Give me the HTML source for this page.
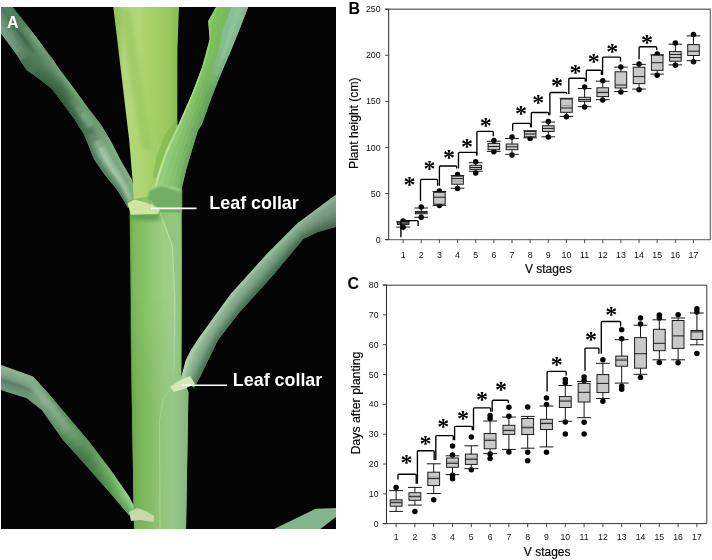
<!DOCTYPE html>
<html><head><meta charset="utf-8"><title>Leaf collar V stages</title>
<style>
html,body{margin:0;padding:0;background:#fff;}
svg{display:block}
.tk{font-family:"Liberation Sans",Arial,sans-serif;font-size:8.7px;fill:#111;}
.lab{font-family:"Liberation Sans",Arial,sans-serif;font-size:12px;fill:#000;stroke:#000;stroke-width:0.15px;}
.pl{font-family:"Liberation Sans",Arial,sans-serif;font-size:16px;font-weight:bold;fill:#000;}
.ast{font-family:"Liberation Serif","Times New Roman",serif;font-size:24px;font-weight:bold;fill:#000;text-anchor:middle;}
.lc{font-family:"Liberation Sans",Arial,sans-serif;font-size:17.9px;font-weight:bold;fill:#fff;}
</style></head>
<body>
<svg width="712" height="560" viewBox="0 0 712 560">
<rect width="712" height="560" fill="#fff"/>
<g id="photo">
<defs>
<clipPath id="pc"><rect x="1" y="7" width="335" height="522"/></clipPath>
<linearGradient id="gStalk" gradientUnits="userSpaceOnUse" x1="129" x2="186" y1="0" y2="0">
<stop offset="0" stop-color="#66a04a"/><stop offset="0.08" stop-color="#7cb85c"/><stop offset="0.35" stop-color="#8fc66e"/><stop offset="0.6" stop-color="#9ccd80"/><stop offset="0.85" stop-color="#a2d08c"/><stop offset="1" stop-color="#84b872"/>
</linearGradient>
<linearGradient id="gWhorl" gradientUnits="userSpaceOnUse" x1="118" x2="180" y1="0" y2="0">
<stop offset="0" stop-color="#98c460"/><stop offset="0.1" stop-color="#b4d87c"/><stop offset="0.35" stop-color="#b0d674"/><stop offset="0.55" stop-color="#a6d068"/><stop offset="0.8" stop-color="#9aca60"/><stop offset="1" stop-color="#86b852"/>
</linearGradient>
<linearGradient id="gStalk2" gradientUnits="userSpaceOnUse" x1="132" x2="188" y1="0" y2="0">
<stop offset="0" stop-color="#69a64c"/><stop offset="0.1" stop-color="#76b356"/><stop offset="0.4" stop-color="#89c06a"/><stop offset="0.55" stop-color="#92c679"/><stop offset="0.75" stop-color="#96c88c"/><stop offset="1" stop-color="#84b87a"/>
</linearGradient>
<linearGradient id="gFade" gradientUnits="userSpaceOnUse" x1="0" x2="0" y1="300" y2="400">
<stop offset="0" stop-color="#fff" stop-opacity="0"/><stop offset="1" stop-color="#fff" stop-opacity="1"/>
</linearGradient>
<mask id="mFade"><rect x="100" y="250" width="120" height="300" fill="url(#gFade)"/></mask>
<filter id="b1" x="-5%" y="-5%" width="110%" height="110%"><feGaussianBlur stdDeviation="0.7"/></filter>
<filter id="b2" x="-5%" y="-5%" width="110%" height="110%"><feGaussianBlur stdDeviation="1.1"/></filter>
<filter id="b3" x="-30%" y="-30%" width="160%" height="160%"><feGaussianBlur stdDeviation="2.2"/></filter>
</defs>
<rect x="1" y="7" width="335" height="522" fill="#050505"/>
<g clip-path="url(#pc)">
<clipPath id="lc1"><polygon points="5.1,-3.4 12.6,7 24.5,22 38.6,40 47.5,52.5 53.4,60 58.6,67.9 74.6,89.3 88.9,108.9 101.3,125 111.8,142.7 120.5,160 131.9,179.6 134.5,192.5 137,200 128,208 124.6,202.1 116.6,189.3 104.6,174.8 94.1,159.6 86.1,139.5 83.6,134 74.6,119.6 62.1,102.5 51.4,88.5 39.8,79.6 26.5,69.9 14.5,51.8 1.2,33.8 -5.3,21.9"/></clipPath>
<g clip-path="url(#lc1)"><polygon points="5.1,-3.4 12.6,7 24.5,22 38.6,40 47.5,52.5 53.4,60 58.6,67.9 74.6,89.3 88.9,108.9 101.3,125 111.8,142.7 120.5,160 131.9,179.6 134.5,192.5 137,200 128,208 124.6,202.1 116.6,189.3 104.6,174.8 94.1,159.6 86.1,139.5 83.6,134 74.6,119.6 62.1,102.5 51.4,88.5 39.8,79.6 26.5,69.9 14.5,51.8 1.2,33.8 -5.3,21.9" fill="#7aa480"/><g filter="url(#b2)">
<polygon points="7.9,-18.1 17.8,-4.6 4.4,4.1 -1.3,-3.8" fill="#4b7657"/>
<polygon points="15.4,-7.7 23.8,2.7 9.1,10.8 2.6,1.5" fill="#4e7859"/>
<polygon points="21.5,0.2 29.7,9.1 14.1,17.7 7.1,8" fill="#517b5c"/>
<polygon points="27.4,6.6 35.1,15 19.4,24.7 12.1,14.9" fill="#537d5e"/>
<polygon points="33.3,12.9 40,20.7 24.8,31.9 17.1,21.8" fill="#567f60"/>
<polygon points="37.8,18 45.5,27.5 30,38.5 22.7,29.2" fill="#66916e"/>
<polygon points="43.2,24.7 51.1,34.6 34.9,45.2 28,35.9" fill="#76a27d"/>
<polygon points="49,31.8 54.7,40.2 40.5,52.8 33,42.5" fill="#73a079"/>
<polygon points="54.1,38.7 57.5,45.5 46.7,60.3 37.9,49.4" fill="#6d9a73"/>
<polygon points="55.6,42.4 61.9,53.4 52,66.7 44.4,57.8" fill="#6b9971"/>
<polygon points="60.2,50.1 66.1,61.6 57.2,73.2 50,64.1" fill="#6e9c72"/>
<polygon points="64.3,58.5 71.3,69.8 62.2,79.5 55,70.6" fill="#709e74"/>
<polygon points="68.7,66.4 77.3,77.8 66.9,85.8 60.4,77.1" fill="#72a075"/>
<polygon points="75.3,75.1 82.4,84.8 72,92.6 64.8,83" fill="#75a377"/>
<polygon points="80.3,82 87.5,91.8 77,99.4 70,89.9" fill="#75a377"/>
<polygon points="85.5,89 92.5,98.7 82,106.3 75,96.7" fill="#72a073"/>
<polygon points="90.5,95.9 97.9,105.7 87,113.1 80,103.6" fill="#6f9e6f"/>
<polygon points="95.5,102.8 103.6,112.6 92,119.8 85.1,110.5" fill="#6c9b6c"/>
<polygon points="101.4,110 109.2,119.7 96.7,126.6 90,117.1" fill="#6a9a6a"/>
<polygon points="106.9,116.5 114.8,127.5 100.9,133.5 95,123.9" fill="#6a9a6a"/>
<polygon points="112.7,124.5 119.8,134.9 105,140.8 99.3,130.6" fill="#70a070"/>
<polygon points="117.8,132.1 123.8,141.3 109.1,148.8 103.4,137.8" fill="#79a87a"/>
<polygon points="122.7,139.2 126.7,147.7 113.4,157 107.4,145.3" fill="#7fae80"/>
<polygon points="125.4,144.5 130,155.3 117.7,164.5 111.8,154" fill="#7fae80"/>
<polygon points="128.8,152.5 133.5,162.7 122.3,171.9 115.8,161.4" fill="#7fae80"/>
<polygon points="132,159.5 137.3,171 126.5,179 120.5,169" fill="#7fae80"/>
<polygon points="135.7,167.4 139.8,180 129.7,186.3 125,176.2" fill="#81af80"/>
<polygon points="139.7,176.4 140.6,189.1 132.2,194.3 128.8,183.1" fill="#82b181"/>
<polygon points="140.1,185.5 142.3,197.9 135,202.1 131.1,191.1" fill="#84b281"/>
<polygon points="141.5,194.5 143.5,203 136.8,206.9 133.8,199" fill="#85b382"/>
<polygon points="-0.5,-5 5.5,3.4 1.3,6.1 -3.4,-0.6" fill="#527e5e"/>
<polygon points="3.6,0.8 10.3,10.1 5.7,12.6 -0.3,3.6" fill="#537f5e"/>
<polygon points="8.3,7.4 15.3,17 10.5,19.6 3.8,9.8" fill="#547f5f"/>
<polygon points="13.3,14.2 20.6,23.9 15.7,27 8.6,16.8" fill="#54805f"/>
<polygon points="18.4,21 26,31 21.3,34.5 13.4,23.8" fill="#55805f"/>
<polygon points="23.9,28.3 31.2,37.7 26.4,41.1 19.3,31.7" fill="#588561"/>
<polygon points="29.2,35 36.2,44.4 31.2,47.7 24.4,38.5" fill="#5c8a64"/>
<polygon points="34.3,41.6 41.7,51.8 37.2,55.7 29.3,44.9" fill="#5f8c66"/>
<polygon points="39.2,48.6 47.5,59.1 44.2,63.7 34.2,51.9" fill="#628e69"/>
<polygon points="45.3,56.6 52.8,65.6 49.8,69.8 41.9,61.3" fill="#648f69"/>
<polygon points="50.8,63 57.9,72.3 55.1,75.9 47.7,67.3" fill="#638f68"/>
<polygon points="55.8,69.6 62.9,78.7 60,81.7 52.9,73.4" fill="#628f67"/>
<polygon points="61,76.2 67.7,85.1 64.5,87.6 58.4,79.5" fill="#618f66"/>
<polygon points="65.7,82.4 72.8,92 69.6,94.4 62.5,84.9" fill="#608f65"/>
<polygon points="70.8,89.2 77.9,98.8 74.6,101.2 67.6,91.7" fill="#619166"/>
<polygon points="75.8,96.1 82.9,105.7 79.6,108.1 72.6,98.4" fill="#65956a"/>
<polygon points="80.9,103 87.9,112.5 84.5,114.8 77.6,105.3" fill="#69996e"/>
<polygon points="85.9,109.8 92.9,119.2 89.3,121.5 82.7,112.2" fill="#6d9d72"/>
<polygon points="90.9,116.5 97.7,126 93.9,128.2 87.3,118.7" fill="#6f9f74"/>
<polygon points="96,123.3 102.1,133 97.8,134.9 92.3,125.7" fill="#6f9f74"/>
<polygon points="100.4,130.1 106.2,140.3 101.6,142.2 96.3,132" fill="#72a177"/>
<polygon points="104.5,137.4 110.3,148.2 105.8,150.5 100,139.1" fill="#75a47b"/>
<polygon points="108.6,144.8 114.5,156.2 110.3,159.1 103.9,146.7" fill="#78a67e"/>
<polygon points="112.9,153.2 118.7,163.7 114.8,166.6 108.6,156.1" fill="#78a67e"/>
<polygon points="116.9,160.7 123.2,171.2 119.7,174 112.8,163.5" fill="#78a67e"/>
<polygon points="121.4,168.3 127.4,178.3 124.1,180.8 117.8,171.2" fill="#78a67e"/>
<polygon points="125.9,175.5 130.5,185.8 127.4,187.8 122.6,178.2" fill="#79a77e"/>
<polygon points="129.7,182.6 132.9,193.9 130.2,195.5 126.3,184.7" fill="#7ba97e"/>
<polygon points="131.8,190.7 135.6,201.8 133.3,203.1 129,192.4" fill="#7caa7e"/>
<polygon points="134.4,198.6 137.4,206.6 135.3,207.8 132,200" fill="#7dab7e"/>
<polygon points="-2.6,-1.7 2.4,5.4 -1.8,8.1 -5.5,2.7" fill="#588364"/>
<polygon points="0.7,2.9 6.9,12 2.3,14.5 -3.3,5.8" fill="#537e5f"/>
<polygon points="5,9.2 11.8,18.9 6.9,21.6 0.5,11.6" fill="#4e795a"/>
<polygon points="9.8,16.2 17,26.2 12.1,29.2 5.1,18.7" fill="#4a7455"/>
<polygon points="14.7,23.1 22.6,33.6 17.9,37 9.7,25.8" fill="#456f50"/>
<polygon points="20.5,30.8 27.6,40.2 22.8,43.6 15.8,34.3" fill="#436d4e"/>
<polygon points="25.7,37.6 32.5,46.8 27.5,50.2 20.9,41.1" fill="#416a4c"/>
<polygon points="30.6,44 38.4,54.7 34,58.6 25.6,47.3" fill="#4a7454"/>
<polygon points="35.5,51 45.1,62.5 41.7,67.1 30.4,54.4" fill="#557f5d"/>
<polygon points="42.8,60.1 50.5,68.7 47.5,72.8 39.3,64.9" fill="#588460"/>
<polygon points="48.5,66.2 55.8,74.9 53,78.5 45.3,70.5" fill="#55815d"/>
<polygon points="53.6,72.4 60.8,80.9 57.9,83.9 50.7,76.2" fill="#527f5a"/>
<polygon points="59.1,78.7 65.3,87 62.1,89.4 56.5,82" fill="#4f7c57"/>
<polygon points="63.3,84.2 70.4,93.8 67.2,96.2 60.1,86.7" fill="#4c7a54"/>
<polygon points="68.4,91.1 75.4,100.6 72.2,102.9 65.2,93.5" fill="#507e58"/>
<polygon points="73.4,97.8 80.5,107.5 77.2,109.8 70.2,100.2" fill="#608b66"/>
<polygon points="78.5,104.7 85.4,114.2 82,116.5 75.2,107.1" fill="#6f9974"/>
<polygon points="83.5,111.6 90.3,120.9 86.7,123.2 80.3,114" fill="#7ea783"/>
<polygon points="88.3,118.1 94.9,127.6 91,129.8 84.7,120.4" fill="#7aa37f"/>
<polygon points="93.2,125.1 98.9,134.4 94.6,136.2 89.5,127.4" fill="#618e69"/>
<polygon points="97.3,131.5 102.8,141.7 98.2,143.5 93.2,133.4" fill="#6a9672"/>
<polygon points="101.2,138.7 107,149.9 102.4,152.2 96.7,140.5" fill="#82ab88"/>
<polygon points="105.1,146.2 111.4,158.3 107.2,161.2 100.3,148.1" fill="#92b998"/>
<polygon points="109.7,155.4 115.8,165.8 112,168.7 105.5,158.3" fill="#92b998"/>
<polygon points="113.9,162.8 120.6,173.3 117.2,176.2 109.9,165.6" fill="#92b998"/>
<polygon points="118.8,170.5 124.9,180.2 121.6,182.7 115.2,173.4" fill="#92b998"/>
<polygon points="123.4,177.5 128.2,187.3 125.1,189.2 120.1,180.3" fill="#91b896"/>
<polygon points="127.2,184.1 130.9,195 128.3,196.6 123.9,186.2" fill="#90b794"/>
<polygon points="129.7,192 133.9,202.8 131.7,204.1 127,193.7" fill="#8fb693"/>
<polygon points="132.6,199.6 135.8,207.5 133.8,208.6 130.2,201" fill="#8eb591"/>
<polygon points="-4.7,1.6 -0.7,7.4 -4.9,10.1 -7.6,6" fill="#638b6f"/>
<polygon points="-2.2,5 3.5,13.8 -1.1,16.3 -6.2,7.9" fill="#618a6d"/>
<polygon points="1.6,11 8.2,20.9 3.3,23.5 -2.8,13.5" fill="#5e886a"/>
<polygon points="6.3,18.1 13.4,28.4 8.5,31.5 1.5,20.7" fill="#5c8768"/>
<polygon points="11,25.1 19.1,36.1 14.4,39.6 5.9,27.9" fill="#5a8566"/>
<polygon points="17,33.4 24.1,42.7 19.2,46.1 12.3,36.9" fill="#588362"/>
<polygon points="22.2,40.2 28.8,49.3 23.8,52.6 17.4,43.7" fill="#55805e"/>
<polygon points="26.9,46.5 35.1,57.6 30.7,61.5 21.9,49.8" fill="#537e5c"/>
<polygon points="31.7,53.5 42.6,65.9 39.2,70.5 26.7,56.8" fill="#507b59"/>
<polygon points="40.2,63.6 48.3,71.7 45.2,75.9 36.7,68.4" fill="#4d7856"/>
<polygon points="46.1,69.4 53.8,77.6 51,81.2 43,73.8" fill="#4a7553"/>
<polygon points="51.5,75.2 58.7,83.1 55.8,86.1 48.6,79" fill="#477250"/>
<polygon points="57.2,81.1 63,88.8 59.7,91.2 54.6,84.4" fill="#446f4d"/>
<polygon points="60.9,86.1 68,95.6 64.8,98 57.7,88.5" fill="#416c4a"/>
<polygon points="66.1,92.9 73,102.3 69.8,104.7 62.8,95.3" fill="#45704e"/>
<polygon points="71,99.6 78.1,109.2 74.8,111.6 67.8,101.9" fill="#547f5c"/>
<polygon points="76.1,106.5 82.9,115.9 79.6,118.2 72.8,108.8" fill="#638e6a"/>
<polygon points="81.1,113.4 87.6,122.6 84,124.8 77.9,115.7" fill="#729d79"/>
<polygon points="85.6,119.8 92,129.2 88.1,131.4 82.1,122" fill="#6b9672"/>
<polygon points="90.5,126.8 95.7,135.7 91.4,137.6 86.8,129.1" fill="#4d7957"/>
<polygon points="94.2,132.9 99.4,143.1 94.8,144.9 90.1,134.8" fill="#618969"/>
<polygon points="97.9,140 103.6,151.6 99,153.9 93.4,141.8" fill="#89ad8e"/>
<polygon points="101.6,147.6 108.3,160.5 104.2,163.3 96.8,149.5" fill="#a6c6a8"/>
<polygon points="106.6,157.5 113,168 109.2,170.8 102.3,160.5" fill="#a6c6a8"/>
<polygon points="110.9,164.8 118.1,175.4 114.6,178.3 106.9,167.6" fill="#a6c6a8"/>
<polygon points="116.1,172.6 122.5,182 119.1,184.5 112.6,175.6" fill="#a6c6a8"/>
<polygon points="121,179.6 125.9,188.7 122.8,190.7 117.6,182.3" fill="#a4c5a6"/>
<polygon points="124.7,185.7 129,196.2 126.3,197.8 121.4,187.8" fill="#a2c3a4"/>
<polygon points="127.7,193.3 132.2,203.7 130,205 124.9,195" fill="#9fc2a1"/>
<polygon points="130.9,200.7 134.3,208.3 132.2,209.5 128.5,202" fill="#9dc19f"/>
<polygon points="-6.8,4.8 -3.8,9.4 -7.9,12.1 -9.7,9.2" fill="#72977e"/>
<polygon points="-5.2,7.1 0.1,15.7 -4.5,18.2 -9.1,10" fill="#71967d"/>
<polygon points="-1.7,12.8 4.6,22.9 -0.3,25.5 -6.1,15.3" fill="#70967c"/>
<polygon points="2.8,20 9.8,30.7 4.9,33.7 -2,22.6" fill="#70957b"/>
<polygon points="7.2,27.1 15.6,38.7 10.9,42.2 2.2,29.9" fill="#6f957a"/>
<polygon points="13.5,36 20.5,45.2 15.7,48.7 8.9,39.4" fill="#6b9276"/>
<polygon points="18.7,42.8 25.1,51.8 20.1,55.1 13.9,46.3" fill="#668f72"/>
<polygon points="23.2,48.9 31.8,60.5 27.4,64.4 18.2,52.2" fill="#5a8365"/>
<polygon points="28,56 40.1,69.4 36.7,74 23,59.3" fill="#4d7656"/>
<polygon points="37.6,67.2 46,74.8 42.9,78.9 34.1,71.9" fill="#456f4e"/>
<polygon points="43.8,72.6 51.7,80.3 48.9,83.8 40.6,77" fill="#426c4c"/>
<polygon points="49.3,78 56.6,85.3 53.7,88.3 46.4,81.8" fill="#406a4a"/>
<polygon points="55.3,83.6 60.6,90.6 57.4,93.1 52.7,86.9" fill="#3e6847"/>
<polygon points="58.5,87.9 65.7,97.3 62.4,99.8 55.3,90.4" fill="#3b6545"/>
<polygon points="63.7,94.7 70.6,104.1 67.4,106.5 60.5,97.1" fill="#3c6645"/>
<polygon points="68.6,101.3 75.7,111 72.4,113.4 65.4,103.7" fill="#406b49"/>
<polygon points="73.7,108.2 80.4,117.6 77.1,119.9 70.4,110.6" fill="#44704d"/>
<polygon points="78.7,115.1 84.9,124.2 81.3,126.5 75.5,117.5" fill="#487550"/>
<polygon points="83,121.4 89.1,130.8 85.2,132.9 79.5,123.6" fill="#4b7954"/>
<polygon points="87.8,128.5 92.5,137.1 88.2,139 84.1,130.8" fill="#4e7c57"/>
<polygon points="91.2,134.3 95.9,144.4 91.3,146.2 87,136.2" fill="#5c8965"/>
<polygon points="94.5,141.3 100.2,153.3 95.7,155.6 90,143.1" fill="#6d9a76"/>
<polygon points="98.1,149 105.2,162.6 101.1,165.4 93.3,150.9" fill="#79a582"/>
<polygon points="103.4,159.7 110.2,170.1 106.3,172.9 99.2,162.6" fill="#75a17f"/>
<polygon points="107.9,166.9 115.5,177.5 112,180.4 103.9,169.7" fill="#729e7b"/>
<polygon points="113.5,174.8 120,183.9 116.7,186.3 109.9,177.8" fill="#6e9a78"/>
<polygon points="118.5,181.6 123.6,190.2 120.5,192.1 115.2,184.3" fill="#6e9a78"/>
<polygon points="122.2,187.2 127,197.4 124.4,199 118.9,189.3" fill="#6e9a78"/>
<polygon points="125.6,194.5 130.6,204.7 128.3,206 122.8,196.3" fill="#6e9a78"/>
<polygon points="129.1,201.7 132.8,209.2 130.7,210.4 126.7,203.1" fill="#6e9a78"/>
<polygon points="-8.9,8.1 -6.9,11.4 -19.2,19.4 -17.4,21.2" fill="#7a9e86"/>
<polygon points="-8.1,9.3 -3.3,17.5 -16.8,25 -19.9,17.7" fill="#799d85"/>
<polygon points="-5,14.6 1,24.8 -13.4,32.7 -18.2,21.9" fill="#799d85"/>
<polygon points="-0.7,21.9 6.1,32.9 -8.4,41.9 -14.8,29.6" fill="#789c84"/>
<polygon points="3.5,29.2 12.1,41.3 -1.8,51.6 -11.4,37.3" fill="#789c84"/>
<polygon points="10.1,38.5 16.9,47.8 2.6,57.9 -3.8,48.8" fill="#74997f"/>
<polygon points="15.2,45.4 21.4,54.2 6.6,64 1.2,55.7" fill="#6f957a"/>
<polygon points="19.5,51.4 28.6,63.4 15.5,74.9 4.8,61.1" fill="#5d8467"/>
<polygon points="24.3,58.5 37.6,72.8 27.6,86.4 9.4,68.4" fill="#497152"/>
<polygon points="35,70.7 43.7,77.8 34.7,90.1 24.7,84.8" fill="#3e6747"/>
<polygon points="41.4,75.9 49.6,82.9 41.4,93.6 32,88.8" fill="#3c6445"/>
<polygon points="47.2,80.8 54.4,87.5 46,96.3 38.6,92" fill="#3a6143"/>
<polygon points="53.3,86 58.2,92.4 48.6,99.7 45.6,95.9" fill="#385e41"/>
<polygon points="56.1,89.7 63.3,99.1 53.7,106.3 46.6,97" fill="#365b3f"/>
<polygon points="61.3,96.5 68.2,105.8 58.6,112.9 51.8,103.8" fill="#365b3f"/>
<polygon points="66.2,103.1 73.3,112.7 63.7,119.8 56.6,110.1" fill="#395f42"/>
<polygon points="71.3,110 77.9,119.3 68,126.2 61.6,117" fill="#3b6344"/>
<polygon points="76.3,116.9 82.3,125.9 71.6,132.6 66.7,123.9" fill="#3e6847"/>
<polygon points="80.4,123.1 86.3,132.4 74.8,138.7 69.9,129.6" fill="#426d4b"/>
<polygon points="85,130.2 89.3,138.5 76.6,144 74.1,137" fill="#487352"/>
<polygon points="88.1,135.7 92.5,145.8 78.9,151.2 75.8,141.3" fill="#4d7958"/>
<polygon points="91.2,142.7 96.8,155 83.4,161.8 77.9,148" fill="#527e5e"/>
<polygon points="94.5,150.4 102.2,164.7 89.9,173.2 80.4,156" fill="#558262"/>
<polygon points="100.3,161.9 107.3,172.2 96,180.6 87.8,170.5" fill="#558262"/>
<polygon points="104.9,168.9 112.9,179.7 102.7,188.1 93,177.2" fill="#558262"/>
<polygon points="110.9,177 117.5,185.7 107.7,193.1 100.3,185.7" fill="#558262"/>
<polygon points="116.1,183.6 121.3,191.6 112,197.4 106.2,191.8" fill="#558262"/>
<polygon points="119.7,188.8 125.1,198.6 117.3,203.3 109.8,195" fill="#558262"/>
<polygon points="123.6,195.8 128.9,205.7 122.2,209.5 115.3,201" fill="#558262"/>
<polygon points="127.3,202.7 131.2,210.1 125.1,213.6 120.2,206.8" fill="#558262"/>
</g></g>
<g filter="url(#b1)">
<polygon points="113.3,7 179,7 177.4,50 177.3,124 181,135 181,200 134,203 132.6,180.6 129.2,140" fill="url(#gWhorl)"/>
<polygon points="129.5,200 181.4,190 181.8,260 181.2,376 188.4,392 186,530 134,530 131.5,380 130.2,260" fill="url(#gStalk)"/>
</g>
<g filter="url(#b1)"><polygon points="164,136 177.3,118 177.3,126 168,150 158,178 153,178 156,158" fill="#7cb44e" opacity="0.6"/></g><g filter="url(#b3)"><polygon points="118,7 130,7 152,150 142,150" fill="#94c25a" opacity="0.55"/></g>
<clipPath id="lc2"><polygon points="218,0 216,7.1 208.1,21 209.6,39.3 202.1,67.1 191.4,95 178.6,124 166,150 157,176 152,196 150,213 181.4,213 181.6,189 186.4,169 197.8,131 202.1,124 211,99.3 220.2,75.7 232.1,47.9 240.7,26.4 248.2,7.1 251,0"/></clipPath>
<g clip-path="url(#lc2)"><polygon points="218,0 216,7.1 208.1,21 209.6,39.3 202.1,67.1 191.4,95 178.6,124 166,150 157,176 152,196 150,213 181.4,213 181.6,189 186.4,169 197.8,131 202.1,124 211,99.3 220.2,75.7 232.1,47.9 240.7,26.4 248.2,7.1 251,0" fill="#7cb866"/><g filter="url(#b1)">
<polygon points="205.1,-11.5 201,1.8 218.7,8.7 223.2,-4.4" fill="#87c767"/>
<polygon points="202.8,-1.7 196.3,10.5 214.5,17.6 220.4,5.1" fill="#89c869"/>
<polygon points="198.4,7.1 194.4,19.7 211.9,26.7 216.3,14.1" fill="#8ac96b"/>
<polygon points="193.2,15.5 196.9,30.3 211.9,36.4 211.8,22.9" fill="#8cca6d"/>
<polygon points="196.1,26.2 197.4,40.4 210.7,46.1 212.1,32.6" fill="#8ecb6f"/>
<polygon points="198.2,36.5 195.4,50.3 207.9,55.6 211.8,42.3" fill="#90cd71"/>
<polygon points="196.2,46.3 193.3,60.2 205.1,65.1 209,51.8" fill="#95cf76"/>
<polygon points="194.3,56.2 190.3,69.9 201.9,74.4 206.3,61.3" fill="#9bd27b"/>
<polygon points="191.8,66.2 186.8,79.2 198.3,83.7 203.3,70.7" fill="#a0d480"/>
<polygon points="188.2,75.5 183.1,88.5 194.7,92.9 199.8,79.9" fill="#a5d785"/>
<polygon points="184.7,84.7 179.1,97.7 191,102 196.2,89.2" fill="#a9d989"/>
<polygon points="180.8,94.1 175.2,105.9 187,111.3 192.6,98.4" fill="#acda8b"/>
<polygon points="176.5,103.1 171.3,114.8 182.9,120.5 188.6,107.5" fill="#afdb8e"/>
<polygon points="173.2,110.2 166.4,125.2 178.9,129.1 184.5,117.1" fill="#b2dd90"/>
<polygon points="168.4,121.7 161.3,134 174.8,138.1 180.6,125.5" fill="#b4de92"/>
<polygon points="163.3,130.5 156.3,142.8 170.7,147.1 176.5,134.5" fill="#b6df94"/>
<polygon points="158.2,139.2 152,151.8 167.1,156.3 172.3,143.5" fill="#b8e096"/>
<polygon points="153.4,148.1 148.4,161.4 163.9,165.6 168.3,152.5" fill="#b9e197"/>
<polygon points="150,157.4 144.8,171.1 160.9,175 165.1,161.9" fill="#bbe199"/>
<polygon points="146.1,167.3 141.6,181.8 158.3,184.2 162,171.2" fill="#bce29a"/>
<polygon points="142.9,176.8 138.4,193.3 156.3,193.4 159.2,180.7" fill="#bbe199"/>
<polygon points="139.6,189.4 136,203.1 154.8,203.2 157,189.6" fill="#bae199"/>
<polygon points="136.7,199.1 134.3,212.9 153.8,213.1 155.3,199.3" fill="#b9e199"/>
<polygon points="135,209 133.3,218.8 153.2,219 154.2,209.1" fill="#b8e098"/>
<polygon points="222.2,-4.7 217.8,8.4 225.9,11.5 230.5,-1.5" fill="#7cc05c"/>
<polygon points="219.5,4.8 213.6,17.2 221.9,20.5 227.5,7.9" fill="#7cc05c"/>
<polygon points="215.4,13.7 211,26.4 219,29.6 223.6,16.9" fill="#7cc05c"/>
<polygon points="210.8,22.5 211.2,36.1 218,38.9 219.3,25.9" fill="#7cc05c"/>
<polygon points="211.3,32.2 210,45.8 216,48.4 218.5,35.1" fill="#7cc05c"/>
<polygon points="211.1,42 207.3,55.3 213,57.8 217.3,44.6" fill="#7cc05c"/>
<polygon points="208.4,51.5 204.5,64.8 209.9,67 214.2,54" fill="#7dc05f"/>
<polygon points="205.7,61.1 201.3,74.2 206.6,76.2 211.1,63.4" fill="#7ec061"/>
<polygon points="202.7,70.5 197.8,83.4 203,85.5 208,72.5" fill="#7fc063"/>
<polygon points="199.2,79.7 194.2,92.7 199.5,94.7 204.4,81.8" fill="#80c065"/>
<polygon points="195.6,89 190.4,101.8 195.8,103.8 200.9,91" fill="#81c167"/>
<polygon points="192,98.2 186.4,111 191.7,113.5 197.3,100.1" fill="#84c36b"/>
<polygon points="188,107.3 182.3,120.2 187.6,122.8 193.6,109.3" fill="#87c46e"/>
<polygon points="183.9,116.7 178.3,128.9 184,130.7 189,119.9" fill="#8ac671"/>
<polygon points="180,125.3 174.1,137.9 180.3,139.7 185.5,127.1" fill="#8cc874"/>
<polygon points="175.8,134.3 170,146.9 176.6,148.9 181.8,136.1" fill="#8ec976"/>
<polygon points="171.6,143.3 166.3,156.1 173.2,158.1 178,145.2" fill="#90ca78"/>
<polygon points="167.6,152.3 163.1,165.4 170.2,167.4 174.4,154.4" fill="#91cb79"/>
<polygon points="164.4,161.7 160.1,174.8 167.4,176.5 171.3,163.8" fill="#93cb7b"/>
<polygon points="161.2,171 157.5,184.1 165.1,185.2 168.5,172.7" fill="#94cc7c"/>
<polygon points="158.4,180.5 155.4,193.4 163.6,193.5 165.8,182.3" fill="#94cc7c"/>
<polygon points="156.1,189.6 153.9,203.2 162.5,203.3 164.1,189.6" fill="#94cc7c"/>
<polygon points="154.3,199.3 152.8,213.1 161.7,213.1 162.8,199.3" fill="#94cc7c"/>
<polygon points="153.2,209.1 152.2,219 161.3,219.1 162,209.2" fill="#94cc7c"/>
<polygon points="228.4,-2.3 223.8,10.7 231.5,13.7 236.2,0.8" fill="#78bb5c"/>
<polygon points="225.4,7.1 219.7,19.7 227.6,22.8 233.1,10" fill="#78bb5c"/>
<polygon points="221.5,16.1 216.9,28.7 224.5,31.8 229.2,19.1" fill="#78bb5c"/>
<polygon points="217.1,25 216.3,38.2 222.8,40.9 225.1,28.2" fill="#78bb5c"/>
<polygon points="216.6,34.4 214.5,47.7 220.2,50.2 223.6,37.2" fill="#78bb5c"/>
<polygon points="215.7,44 211.5,57.1 216.9,59.5 221.6,46.5" fill="#78bb5c"/>
<polygon points="212.7,53.4 208.5,66.5 213.6,68.6 218.3,55.8" fill="#78ba5d"/>
<polygon points="209.7,62.8 205.2,75.7 210.2,77.6 214.9,65" fill="#78ba5d"/>
<polygon points="206.6,72 201.6,84.9 206.7,86.9 211.7,73.9" fill="#78b95d"/>
<polygon points="203.1,81.2 198.1,94.1 203.1,96 208.1,83.2" fill="#78b85e"/>
<polygon points="199.5,90.5 194.4,103.3 199.6,105.1 204.5,92.5" fill="#79b95f"/>
<polygon points="195.9,99.6 190.4,112.9 195.5,115.2 201,101.4" fill="#7cbb63"/>
<polygon points="192.1,108.7 186.2,122.1 191.3,124.6 197.4,110.7" fill="#7fbc66"/>
<polygon points="187.7,119.1 182.6,130.2 188,131.9 192.6,122.1" fill="#82be69"/>
<polygon points="184.1,126.6 178.7,139.3 184.6,141 189.4,128.3" fill="#84c06c"/>
<polygon points="180.2,135.6 174.9,148.3 181.1,150.2 186,137.3" fill="#86c16e"/>
<polygon points="176.4,144.7 171.4,157.6 177.9,159.5 182.5,146.5" fill="#88c370"/>
<polygon points="172.6,153.8 168.4,166.9 175.1,168.7 179.1,155.8" fill="#89c472"/>
<polygon points="169.5,163.2 165.5,176.1 172.5,177.8 176.1,165.2" fill="#8bc575"/>
<polygon points="166.6,172.3 163.1,184.9 170.4,186 173.6,173.9" fill="#8cc676"/>
<polygon points="163.9,181.8 161.4,193.5 169.2,193.6 171,183.5" fill="#8cc676"/>
<polygon points="162,189.6 160.3,203.3 168.4,203.3 169.6,189.7" fill="#8cc676"/>
<polygon points="160.6,199.3 159.4,213.1 167.9,213.2 168.7,199.4" fill="#8cc676"/>
<polygon points="159.8,209.2 158.9,219 167.6,219.1 168.1,209.2" fill="#8cc676"/>
<polygon points="234.2,-0 229.5,12.9 236.5,15.6 241.3,2.8" fill="#8bc098"/>
<polygon points="231.1,9.3 225.5,22 232.7,24.7 238,11.9" fill="#8abf94"/>
<polygon points="227.2,18.3 222.5,31 229.4,33.7 234.2,21.1" fill="#88be91"/>
<polygon points="223,27.4 221.1,40.2 227,42.6 230.3,30.3" fill="#87bd8d"/>
<polygon points="221.8,36.4 218.8,49.5 223.9,51.8 228,38.9" fill="#85bd89"/>
<polygon points="220,45.8 215.5,58.9 220.4,60.9 225.4,48.1" fill="#83bb84"/>
<polygon points="216.8,55.1 212.3,68 216.9,69.9 221.8,57.3" fill="#7fb97b"/>
<polygon points="213.6,64.4 208.9,77.1 213.5,78.9 218.3,66.5" fill="#7bb672"/>
<polygon points="210.4,73.4 205.4,86.4 209.9,88.1 214.9,75.2" fill="#77b468"/>
<polygon points="206.8,82.7 201.8,95.6 206.3,97.3 211.3,84.4" fill="#72b15f"/>
<polygon points="203.2,91.9 198.3,104.6 202.9,106.3 207.7,93.7" fill="#71b15b"/>
<polygon points="199.7,101 194.1,114.6 198.8,116.7 204.3,102.6" fill="#74b35e"/>
<polygon points="196,110.2 190,123.9 194.5,126.1 200.8,111.9" fill="#77b461"/>
<polygon points="191.3,121.3 186.6,131.5 191.5,133 195.7,124" fill="#7ab664"/>
<polygon points="188,127.9 183.1,140.6 188.4,142.1 192.8,129.4" fill="#7cb866"/>
<polygon points="184.5,136.9 179.5,149.7 185.2,151.4 189.6,138.4" fill="#7eba68"/>
<polygon points="180.9,146.1 176.2,159 182.1,160.8 186.4,147.7" fill="#80bc6a"/>
<polygon points="177.4,155.3 173.3,168.2 179.4,169.9 183.3,157" fill="#82bd6c"/>
<polygon points="174.4,164.7 170.7,177.3 177,178.8 180.3,166.5" fill="#85bf6f"/>
<polygon points="171.8,173.5 168.5,185.7 175.1,186.6 178,175" fill="#86c070"/>
<polygon points="169.1,183.1 167.2,193.5 174.2,193.6 175.5,184.6" fill="#86c070"/>
<polygon points="167.6,189.7 166.3,203.3 173.7,203.4 174.4,189.7" fill="#86c070"/>
<polygon points="166.6,199.4 165.7,213.2 173.3,213.2 173.8,199.4" fill="#86c070"/>
<polygon points="165.9,209.2 165.3,219.1 173.1,219.2 173.5,209.3" fill="#86c070"/>
<polygon points="239.4,2 234.7,14.9 241.2,17.4 246.1,4.7" fill="#8fc39c"/>
<polygon points="236.2,11.3 230.8,24 237.5,26.7 242.7,13.8" fill="#8fc39c"/>
<polygon points="232.4,20.4 227.6,33 234.1,35.6 239,22.9" fill="#8fc39c"/>
<polygon points="228.4,29.5 225.4,42 231,44.3 235.2,32.3" fill="#8fc39c"/>
<polygon points="226.4,38.3 222.6,51.2 227.5,53.3 232.3,40.7" fill="#8fc39c"/>
<polygon points="224,47.5 219.1,60.4 223.8,62.4 229,49.7" fill="#8dc299"/>
<polygon points="220.5,56.7 215.7,69.5 220.1,71.3 225.3,58.7" fill="#86bc8b"/>
<polygon points="217.1,65.9 212.3,78.4 216.5,80.1 221.5,67.8" fill="#7eb77d"/>
<polygon points="213.7,74.7 208.7,87.7 212.9,89.3 218,76.4" fill="#76b170"/>
<polygon points="210.1,84 205.2,96.8 209.5,98.4 214.4,85.6" fill="#6eab62"/>
<polygon points="206.5,93.2 201.7,105.9 206.1,107.5 210.8,94.9" fill="#6ba95b"/>
<polygon points="203.1,102.2 197.6,116.2 201.9,118.2 207.5,103.7" fill="#6dab5d"/>
<polygon points="199.6,111.4 193.4,125.6 197.6,127.7 204,113" fill="#70ac5e"/>
<polygon points="194.6,123.3 190.2,132.6 194.9,134.1 198.7,125.8" fill="#72ae60"/>
<polygon points="191.5,129 187,141.7 192,143.2 196,130.4" fill="#74b062"/>
<polygon points="188.3,138 183.7,151 189,152.6 193.2,139.5" fill="#77b264"/>
<polygon points="185,147.3 180.6,160.3 186.1,162 190.2,148.8" fill="#79b466"/>
<polygon points="181.8,156.6 177.8,169.5 183.5,171 187.3,158.2" fill="#7cb668"/>
<polygon points="178.8,166 175.4,178.4 181.3,179.9 184.4,167.7" fill="#7eb96b"/>
<polygon points="176.4,174.6 173.4,186.4 179.6,187.3 182.3,176" fill="#80ba6c"/>
<polygon points="173.9,184.2 172.4,193.6 179,193.6 179.9,185.6" fill="#80ba6c"/>
<polygon points="172.6,189.7 171.8,203.4 178.7,203.4 179.1,189.7" fill="#80ba6c"/>
<polygon points="171.9,199.4 171.3,213.2 178.6,213.3 178.8,199.5" fill="#80ba6c"/>
<polygon points="171.5,209.3 171.1,219.1 178.4,219.2 178.6,209.3" fill="#80ba6c"/>
<polygon points="244.4,4 239.5,16.8 258,24 263.3,11.5" fill="#86ba92"/>
<polygon points="241,13.1 235.8,26 254.8,33.4 259.4,20.3" fill="#86ba92"/>
<polygon points="237.3,22.3 232.4,34.9 250.7,42.3 256.1,29.6" fill="#86ba92"/>
<polygon points="233.5,31.5 229.5,43.7 245.3,50.1 252.8,39.3" fill="#86ba92"/>
<polygon points="230.8,40 226.2,52.7 240.1,58.7 247.5,46.7" fill="#86ba92"/>
<polygon points="227.7,49.1 222.6,61.9 235.6,67.5 241.9,55.2" fill="#84b990"/>
<polygon points="224,58.2 219,70.8 231.3,75.9 237.4,64" fill="#7db384"/>
<polygon points="220.4,67.3 215.4,79.7 227.5,84.4 232.9,72.7" fill="#76ae79"/>
<polygon points="216.9,76 211.8,88.9 223.9,93.6 229,80.7" fill="#6fa96e"/>
<polygon points="213.3,85.2 208.3,98 220.5,102.6 225.3,89.9" fill="#68a363"/>
<polygon points="209.7,94.5 205,107.1 217.4,111.5 221.7,99.2" fill="#65a15c"/>
<polygon points="206.3,103.3 200.8,117.6 213.1,123.3 218.6,107.8" fill="#66a25c"/>
<polygon points="202.9,112.6 196.5,127.1 208.7,133.1 215.6,117.2" fill="#67a35c"/>
<polygon points="197.6,125.2 193.7,133.7 206.8,137.8 209.4,132.4" fill="#69a55c"/>
<polygon points="194.9,130.1 190.7,142.8 204.8,147.1 207.6,134.1" fill="#6aa65c"/>
<polygon points="191.9,139.1 187.6,152.2 202.7,156.7 205.7,143.3" fill="#6ca75d"/>
<polygon points="188.9,148.4 184.7,161.6 200.4,166.3 203.6,152.9" fill="#6ea95f"/>
<polygon points="185.8,157.8 182,170.6 198.2,175.1 201.4,162.5" fill="#6faa60"/>
<polygon points="182.9,167.3 179.8,179.5 196.6,183.5 198.8,172" fill="#71ab61"/>
<polygon points="180.7,175.7 178,187.1 195.5,189.6 197.4,179.7" fill="#72ac62"/>
<polygon points="178.3,185.3 177.2,193.6 195.9,193.8 195.4,189.4" fill="#72ac62"/>
<polygon points="177.4,189.7 176.9,203.4 196.6,203.6 195.6,189.9" fill="#72ac62"/>
<polygon points="177,199.5 176.7,213.3 197.1,213.4 196.5,199.6" fill="#72ac62"/>
<polygon points="176.8,209.3 176.5,219.2 197.4,219.4 196.9,209.5" fill="#72ac62"/>
</g></g>
<g filter="url(#b2)"><polygon points="149,191 160,185 181.5,191 181.5,213 160,213 157,207 148,200" fill="#72ae62"/><path d="M152 189L160 184.5L181.5 190.5" fill="none" stroke="#a6d688" stroke-width="2"/></g>
<clipPath id="lc3"><polygon points="181,378 185.8,360 191,350 199.3,337.2 230.7,294 266.1,254.7 297.5,223.2 340,191.5 340,226 318,232 303.4,238.9 274,274.3 238.6,313.6 218.1,340 208.3,360 200.6,376 194,388"/></clipPath>
<g clip-path="url(#lc3)"><polygon points="181,378 185.8,360 191,350 199.3,337.2 230.7,294 266.1,254.7 297.5,223.2 340,191.5 340,226 318,232 303.4,238.9 274,274.3 238.6,313.6 218.1,340 208.3,360 200.6,376 194,388" fill="#6a9474"/><g filter="url(#b2)">
<polygon points="173,380.2 175.3,364.9 187,371 182.4,385.4" fill="#b3d3ae"/>
<polygon points="174.6,369.1 177.9,354.5 190.9,360.8 185.7,375.2" fill="#b2d2ad"/>
<polygon points="176.2,358.5 182.9,344.9 195.7,351.1 189.1,364.7" fill="#b0d0ac"/>
<polygon points="180.5,348.6 189.3,336 201.3,341.8 193.5,354.9" fill="#aeceab"/>
<polygon points="186.6,339.4 196.3,326.7 207.1,333.1 199,345.5" fill="#acccaa"/>
<polygon points="193.3,330.7 203.4,317 213.2,324.7 204.7,336.3" fill="#abcba9"/>
<polygon points="200.9,320.6 209.6,308.1 219.6,315.9 210.6,328.2" fill="#a9c9a9"/>
<polygon points="207.1,311.7 216,299 226,307.3 217.1,319.4" fill="#a8c8a8"/>
<polygon points="213.4,302.8 222.6,289.8 232.6,298.8 223.5,310.7" fill="#a6c6a6"/>
<polygon points="220,293.3 229.3,281.3 239.6,290.5 229.8,302.2" fill="#a5c5a5"/>
<polygon points="226.4,284.5 236.6,273.2 246.9,282.5 236.7,293.8" fill="#a3c4a4"/>
<polygon points="233.7,276.5 243.9,265.2 254.1,274.4 243.9,285.7" fill="#a2c3a3"/>
<polygon points="241,268.4 251.1,257.2 261.4,266.2 251.2,277.6" fill="#a0c2a2"/>
<polygon points="248.3,260.3 258.5,249.5 268.8,258.1 258.5,269.5" fill="#9fc0a0"/>
<polygon points="255.4,252.6 266.3,242 276.2,250.2 265.9,261.3" fill="#9ebf9f"/>
<polygon points="263.1,244.9 274.4,234.6 283.7,242.3 273.2,253.3" fill="#9cbe9e"/>
<polygon points="271.2,237.5 282.7,226.9 291.1,234.6 280.7,245.5" fill="#9abc9c"/>
<polygon points="279.2,230.2 291.8,218.2 298.4,227.7 288.2,237.6" fill="#97b99a"/>
<polygon points="288,222 300.8,209.4 306.5,221.6 295.4,230.1" fill="#94b698"/>
<polygon points="297.5,212.4 309.8,201.3 315.1,215.8 302.9,224" fill="#92b496"/>
<polygon points="305.9,204.9 318.8,192.7 323.6,210.3 311.8,218" fill="#8fb194"/>
<polygon points="315.6,196.1 327,184.3 332.6,204.6 320.1,212.5" fill="#8daf91"/>
<polygon points="323.8,187.6 335.7,175.7 341.3,199.1 329,206.9" fill="#8aac8f"/>
<polygon points="331.9,179.2 341.4,170.4 346.3,195.8 338,201.3" fill="#87a98d"/>
<polygon points="181.6,385 186.1,370.5 189.7,372.4 184.5,386.6" fill="#9bc19d"/>
<polygon points="184.8,374.7 189.8,360.3 193.8,362.2 188.2,376.6" fill="#99bf9c"/>
<polygon points="188,364.2 194.7,350.6 198.7,352.6 192,366.1" fill="#97bd9b"/>
<polygon points="192.5,354.4 200.3,341.4 204,343.2 196.6,356.3" fill="#96bb9a"/>
<polygon points="198,345 206.2,332.6 209.6,334.5 201.8,346.9" fill="#94b999"/>
<polygon points="203.8,335.9 212.4,324 215.4,326.4 207.4,337.6" fill="#92b798"/>
<polygon points="209.8,327.5 218.8,315.3 221.9,317.7 212.8,329.9" fill="#90b597"/>
<polygon points="216.3,318.8 225.2,306.6 228.3,309.2 219.3,321.2" fill="#8fb496"/>
<polygon points="222.7,310 231.7,298.1 234.9,300.9 225.8,312.5" fill="#8eb394"/>
<polygon points="229,301.5 238.8,289.8 241.9,292.6 232.1,304.2" fill="#8db293"/>
<polygon points="235.8,293 246,281.7 249.2,284.6 239,295.9" fill="#8bb192"/>
<polygon points="243.1,284.9 253.3,273.6 256.5,276.5 246.3,287.8" fill="#8ab091"/>
<polygon points="250.4,276.9 260.6,265.5 263.8,268.3 253.6,279.7" fill="#89af90"/>
<polygon points="257.7,268.8 268,257.4 271.2,260.1 260.8,271.6" fill="#88ae8e"/>
<polygon points="265,260.6 275.4,249.5 278.5,252.1 268.3,263.3" fill="#87ad8d"/>
<polygon points="272.4,252.6 283,241.7 285.9,244.1 275.5,255.2" fill="#86ac8c"/>
<polygon points="280,244.8 290.4,234 293,236.4 282.9,247.3" fill="#85aa8b"/>
<polygon points="287.5,237 297.9,226.9 300,229.9 290.3,239.3" fill="#83a88a"/>
<polygon points="294.8,229.5 306,220.6 307.8,224.4 297.1,232" fill="#82a689"/>
<polygon points="302.5,223.1 314.7,214.6 316.3,219.1 304.2,226.7" fill="#80a587"/>
<polygon points="311.3,216.9 323.3,208.9 324.7,214.3 313.1,221" fill="#7fa386"/>
<polygon points="319.7,211.2 332.1,203 333.9,209.3 321.1,216.3" fill="#7ea185"/>
<polygon points="328.6,205.3 340.9,197.2 342.6,204.4 330.2,211.3" fill="#7c9f84"/>
<polygon points="337.5,199.5 345.9,193.7 347.5,201.6 339.3,206.3" fill="#7b9d83"/>
<polygon points="183.8,386.2 188.8,371.9 192.4,373.8 186.7,387.8" fill="#8db492"/>
<polygon points="187.3,376.1 192.8,361.7 196.8,363.6 190.8,378" fill="#8cb391"/>
<polygon points="191,365.6 197.6,352.1 201.6,354 195,367.6" fill="#8bb291"/>
<polygon points="195.5,355.8 203.1,342.7 206.8,344.6 199.6,357.8" fill="#8ab190"/>
<polygon points="200.8,346.4 208.7,334 212,336 204.7,348.3" fill="#89af90"/>
<polygon points="206.4,337.2 214.7,325.8 217.7,328.2 210,338.9" fill="#88ae8f"/>
<polygon points="212.1,329.3 221.1,317.1 224.2,319.5 215.1,331.6" fill="#87ad8e"/>
<polygon points="218.5,320.6 227.5,308.5 230.6,311.1 221.6,323" fill="#86ac8e"/>
<polygon points="225,311.8 234,300.2 237.2,303 228.2,314.3" fill="#84aa8c"/>
<polygon points="231.3,303.5 241.1,291.9 244.3,294.8 234.3,306.3" fill="#83a98b"/>
<polygon points="238.2,295.1 248.4,283.8 251.6,286.7 241.4,298" fill="#81a889"/>
<polygon points="245.5,287.1 255.7,275.7 258.8,278.6 248.6,289.9" fill="#80a788"/>
<polygon points="252.7,279 263,267.6 266.2,270.4 255.9,281.8" fill="#7ea686"/>
<polygon points="260,270.9 270.3,259.4 273.5,262 263.2,273.8" fill="#7da485"/>
<polygon points="267.4,262.6 277.7,251.4 280.8,253.9 270.7,265.3" fill="#7ca384"/>
<polygon points="274.7,254.6 285.1,243.5 288,245.9 277.9,257.2" fill="#7aa282"/>
<polygon points="282.1,246.6 292.4,235.8 295,238.2 285.1,249.1" fill="#79a181"/>
<polygon points="289.6,238.7 299.4,229.1 301.5,232.1 292.4,241.1" fill="#799f81"/>
<polygon points="296.5,231.4 307.3,223.4 309,227.2 298.9,233.9" fill="#789e80"/>
<polygon points="303.7,225.7 315.9,218 317.5,222.4 305.4,229.3" fill="#779c7f"/>
<polygon points="312.6,219.9 324.4,212.9 325.8,218.4 314.4,224" fill="#769b7e"/>
<polygon points="320.7,215 333.4,207.7 335.1,214 322.1,220.1" fill="#769a7e"/>
<polygon points="329.8,209.8 342.1,202.5 343.9,209.8 331.4,215.7" fill="#75987d"/>
<polygon points="338.9,204.5 347.1,199.6 348.6,207.4 340.7,211.4" fill="#74977c"/>
<polygon points="185.9,387.4 191.5,373.3 195.2,375.2 188.8,389" fill="#7aa682"/>
<polygon points="189.9,377.5 195.8,363.1 199.8,365.1 193.3,379.4" fill="#7aa582"/>
<polygon points="193.9,367.1 200.6,353.5 204.5,355.4 198,369" fill="#79a482"/>
<polygon points="198.5,357.3 205.8,344.1 209.6,345.9 202.6,359.2" fill="#79a382"/>
<polygon points="203.7,347.8 211.2,335.5 214.5,337.5 207.5,349.7" fill="#79a282"/>
<polygon points="209.1,338.5 216.9,327.6 220,329.9 212.6,340.2" fill="#78a182"/>
<polygon points="214.3,331 223.4,318.9 226.5,321.3 217.3,333.4" fill="#78a082"/>
<polygon points="220.8,322.3 229.8,310.4 232.9,313 223.9,324.7" fill="#789f82"/>
<polygon points="227.4,313.6 236.3,302.2 239.5,305 230.5,316.1" fill="#769d80"/>
<polygon points="233.6,305.5 243.5,294 246.6,296.9 236.6,308.3" fill="#749c7e"/>
<polygon points="240.5,297.3 250.7,285.9 253.9,288.8 243.7,300.1" fill="#729b7c"/>
<polygon points="247.8,289.2 258,277.9 261.2,280.7 251,292" fill="#71997b"/>
<polygon points="255.1,281.1 265.4,269.7 268.6,272.4 258.3,284" fill="#6f9879"/>
<polygon points="262.4,273 272.7,261.4 275.9,264 265.5,275.9" fill="#6e9778"/>
<polygon points="269.8,264.6 280,253.3 283,255.8 273.1,267.3" fill="#6c9576"/>
<polygon points="277,256.5 287.3,245.3 290.1,247.7 280.2,259.1" fill="#6a9474"/>
<polygon points="284.3,248.5 294.3,237.6 296.9,240 287.3,250.9" fill="#6a9374"/>
<polygon points="291.6,240.5 301,231.3 303,234.3 294.4,242.8" fill="#6a9274"/>
<polygon points="298.3,233.3 308.6,226.2 310.3,230 300.6,235.8" fill="#6a9173"/>
<polygon points="305,228.4 317.1,221.3 318.7,225.8 306.7,232" fill="#6a9073"/>
<polygon points="314,223 325.5,216.9 326.9,222.4 315.8,227" fill="#6a8f73"/>
<polygon points="321.8,218.8 334.7,212.4 336.4,218.7 323.2,223.9" fill="#6a8e73"/>
<polygon points="331,214.2 343.4,207.9 345.1,215.2 332.6,220.2" fill="#6a8d72"/>
<polygon points="340.2,209.6 348.2,205.4 349.7,213.2 342.1,216.4" fill="#6a8c72"/>
<polygon points="188.1,388.5 194.2,374.7 197.9,376.6 191,390.1" fill="#668f70"/>
<polygon points="192.4,378.9 198.8,364.6 202.8,366.5 195.8,380.8" fill="#658e70"/>
<polygon points="196.9,368.5 203.5,354.9 207.5,356.8 200.9,370.4" fill="#648d6f"/>
<polygon points="201.5,358.7 208.6,345.4 212.3,347.3 205.6,360.7" fill="#638d6f"/>
<polygon points="206.5,349.2 213.6,337 217,338.9 210.4,351.1" fill="#628c6f"/>
<polygon points="211.7,339.8 219.2,329.3 222.2,331.7 215.2,341.5" fill="#618b6e"/>
<polygon points="216.5,332.8 225.7,320.6 228.9,323.1 219.6,335.1" fill="#608a6e"/>
<polygon points="223.1,324.1 232.1,312.3 235.2,314.9 226.2,326.5" fill="#5f8a6e"/>
<polygon points="229.7,315.5 238.6,304.3 241.8,307.1 232.8,317.9" fill="#5e886c"/>
<polygon points="235.8,307.6 245.8,296.1 249,299 238.9,310.3" fill="#5d876b"/>
<polygon points="242.9,299.4 253.1,288.1 256.3,290.9 246.1,302.2" fill="#5c866a"/>
<polygon points="250.2,291.3 260.4,280 263.5,282.8 253.3,294.2" fill="#5b8469"/>
<polygon points="257.4,283.2 267.7,271.7 270.9,274.5 260.6,286.1" fill="#5b8368"/>
<polygon points="264.7,275.1 275.1,263.3 278.3,266 267.9,278" fill="#5a8266"/>
<polygon points="272.2,266.6 282.2,255.2 285.3,257.7 275.5,269.3" fill="#598065"/>
<polygon points="279.4,258.4 289.4,247 292.3,249.4 282.5,261" fill="#587f64"/>
<polygon points="286.5,250.3 296.2,239.4 298.8,241.8 289.5,252.7" fill="#587f64"/>
<polygon points="293.7,242.2 302.5,233.5 304.6,236.5 296.5,244.5" fill="#587e64"/>
<polygon points="300,235.1 309.9,229 311.6,232.8 302.3,237.7" fill="#597e64"/>
<polygon points="306.3,231 318.3,224.6 320,229.1 308,234.6" fill="#597e64"/>
<polygon points="315.3,226 326.6,221 328,226.4 317.1,230" fill="#597d64"/>
<polygon points="322.8,222.6 336,217 337.7,223.4 324.2,227.7" fill="#597d64"/>
<polygon points="332.2,218.6 344.7,213.3 346.4,220.5 333.8,224.6" fill="#5a7d64"/>
<polygon points="341.6,214.7 349.3,211.2 350.8,219.1 343.5,221.5" fill="#5a7c64"/>
<polygon points="190.2,389.7 196.9,376.1 207.8,381.8 198.9,394.5" fill="#517a5c"/>
<polygon points="194.9,380.3 201.7,366 213.7,371.7 205.1,385.9" fill="#50795b"/>
<polygon points="199.9,369.9 206.5,356.3 218.2,362 211.7,375.6" fill="#4f785b"/>
<polygon points="204.5,360.1 211.4,346.8 222.4,352.2 216.6,365.9" fill="#4e785a"/>
<polygon points="209.4,350.6 216.1,338.4 226,344.3 220.8,356.2" fill="#4d775a"/>
<polygon points="214.3,341 221.4,331.1 230.5,338.1 224.8,346.2" fill="#4c7659"/>
<polygon points="218.8,334.5 228,322.4 237.3,329.6 227.7,341.5" fill="#4b7558"/>
<polygon points="225.4,325.9 234.4,314.2 243.7,321.8 234.5,333" fill="#4a7558"/>
<polygon points="232,317.3 240.9,306.4 250.1,314.7 241.3,324.5" fill="#4a7457"/>
<polygon points="238.1,309.6 248.2,298.3 257.6,306.7 247.1,317.8" fill="#497356"/>
<polygon points="245.2,301.5 255.4,290.2 264.8,298.7 254.7,310" fill="#497156"/>
<polygon points="252.5,293.4 262.7,282.1 272.1,290.6 261.9,301.9" fill="#487055"/>
<polygon points="259.8,285.3 270.1,273.8 279.6,282.1 269.2,293.8" fill="#486f54"/>
<polygon points="267.1,277.3 277.5,265.3 287,273.2 276.5,285.7" fill="#486e54"/>
<polygon points="274.7,268.6 284.5,257 293.6,264.6 284.3,276.6" fill="#476d53"/>
<polygon points="281.7,260.3 291.5,248.8 300.1,255.9 291,268" fill="#476c52"/>
<polygon points="288.7,252.1 298.1,241.1 305.8,248.3 297.5,259.4" fill="#476c52"/>
<polygon points="295.8,243.9 304,235.7 310.1,244.5 304,250.8" fill="#486c52"/>
<polygon points="301.7,237 311.2,231.8 316.3,243 308.5,244.5" fill="#486c53"/>
<polygon points="307.5,233.7 319.5,227.9 324.4,241.2 312.5,244.3" fill="#486c53"/>
<polygon points="316.7,229 327.7,225 332.1,241.2 322,241" fill="#496c53"/>
<polygon points="323.8,226.3 337.2,221.7 342.4,240.4 328,241.5" fill="#496c53"/>
<polygon points="333.4,223 346,218.7 351.1,240.1 338.2,240.7" fill="#496c54"/>
<polygon points="343,219.7 350.4,217 355,240.3 348.5,240" fill="#4a6c54"/>
</g></g>
<clipPath id="lc4"><polygon points="-3,363.5 33,376.4 45.6,390 62.5,410 87.9,440 110.8,470 128.8,496 135.5,508.7 128.9,515.3 112.7,496 89.8,470 63,440 41.7,410 26.4,398 10,393 -3,388.5"/></clipPath>
<g clip-path="url(#lc4)"><polygon points="-3,363.5 33,376.4 45.6,390 62.5,410 87.9,440 110.8,470 128.8,496 135.5,508.7 128.9,515.3 112.7,496 89.8,470 63,440 41.7,410 26.4,398 10,393 -3,388.5" fill="#4a804c"/><g filter="url(#b2)">
<polygon points="-5.8,349.9 7.2,354.6 1.6,370.8 -9.9,366.7" fill="#8fb494"/>
<polygon points="3.8,353.4 15.7,357.7 10.1,373.8 -1.8,369.6" fill="#8fb494"/>
<polygon points="12.3,356.5 24.1,360.9 18.8,376.9 6.7,372.6" fill="#8fb494"/>
<polygon points="20.8,359.6 32.3,364.4 27.3,380 15.3,375.6" fill="#8fb494"/>
<polygon points="28.9,362.7 40.9,370.6 34.2,384.1 24,378.7" fill="#8db292"/>
<polygon points="37.5,366.9 48.3,379.2 39.8,389.9 32.1,381.9" fill="#82a987"/>
<polygon points="46,376.3 53.8,386.7 46,396.4 37.3,387.4" fill="#77a07c"/>
<polygon points="51.7,383.5 60.1,394.7 51.7,402.9 43.6,393.8" fill="#6d9972"/>
<polygon points="57.1,391.3 67,402.4 57.1,409.4 49.7,400.4" fill="#68976b"/>
<polygon points="64.5,399.8 73.2,409.2 62.9,416.5 54.8,406.6" fill="#639464"/>
<polygon points="70.7,406.5 79.3,415.9 68.6,423.5 60.6,413.7" fill="#5e925d"/>
<polygon points="76.9,413.2 85.2,422.3 74.5,430.7 66.3,420.7" fill="#5a9158"/>
<polygon points="83.1,419.9 90.7,428.8 80.5,437.8 72,427.7" fill="#5c9359"/>
<polygon points="88.3,425.9 96.2,435.9 86.3,444.8 78.2,435" fill="#5d965a"/>
<polygon points="94.1,433 101.5,443.3 92,451.9 84.1,441.9" fill="#5e985b"/>
<polygon points="99.4,440.4 106.8,450.8 97.6,459 89.7,449" fill="#629d5e"/>
<polygon points="104.7,447.8 112.1,458.3 103.2,466.1 95.4,456.1" fill="#69a662"/>
<polygon points="110,455.3 117.2,465.8 108.8,473.3 101,463.2" fill="#71ae67"/>
<polygon points="115.3,462.7 122.1,473.6 114.1,480.6 106.6,470.4" fill="#78b66b"/>
<polygon points="120.2,470.4 126.9,481.4 119.5,487.8 112,477.6" fill="#83be75"/>
<polygon points="124.9,478.3 131.7,489.3 124.7,495.2 117.4,484.9" fill="#8ec780"/>
<polygon points="129.8,486.2 135.8,497.6 129.6,502.8 122.6,492.2" fill="#99cf8b"/>
<polygon points="134.4,494.1 139.3,506.2 134.2,510.5 127.8,499.7" fill="#9ad08c"/>
<polygon points="137.9,502.8 141.4,511.4 136.9,515.2 132.3,507.4" fill="#9ad08c"/>
<polygon points="-9.6,365.3 2,369.5 0.3,374.5 -10.9,370.5" fill="#86aa8c"/>
<polygon points="-1.4,368.3 10.6,372.5 8.9,377.5 -3.1,373.3" fill="#86aa8c"/>
<polygon points="7.2,371.3 19.2,375.6 17.6,380.5 5.4,376.3" fill="#86aa8c"/>
<polygon points="15.7,374.4 27.7,378.7 26.1,383.6 14,379.3" fill="#86aa8c"/>
<polygon points="24.4,377.4 34.7,383 32.6,387.2 22.9,382.3" fill="#86aa8c"/>
<polygon points="32.6,380.7 40.5,389.1 37.9,392.4 30.9,385.4" fill="#86ab8c"/>
<polygon points="38,386.5 46.7,395.6 44.2,398.7 35.3,389.9" fill="#86ac8c"/>
<polygon points="44.3,393 52.4,402.2 49.8,404.7 41.8,396.2" fill="#84ab8a"/>
<polygon points="50.3,399.6 57.9,408.9 54.9,411 48,402.4" fill="#7fa884"/>
<polygon points="55.6,406.1 63.7,415.9 60.5,418.1 52.6,408.2" fill="#79a57d"/>
<polygon points="61.4,413.1 69.4,422.9 66.1,425.3 58.2,415.3" fill="#73a177"/>
<polygon points="67.1,420.1 75.3,430 72,432.6 63.9,422.4" fill="#6e9e70"/>
<polygon points="72.9,427.1 81.3,437.1 78.2,439.9 69.5,429.5" fill="#689b69"/>
<polygon points="79,434.3 87.1,444.1 84,446.8 75.8,437.1" fill="#639762"/>
<polygon points="84.9,441.2 92.7,451.2 89.8,453.8 81.8,444" fill="#5d945b"/>
<polygon points="90.5,448.3 98.3,458.3 95.5,460.9 87.5,451" fill="#5c9558"/>
<polygon points="96.1,455.5 103.9,465.5 101.2,467.9 93.2,458.1" fill="#629d5b"/>
<polygon points="101.7,462.6 109.4,472.7 106.8,475 98.9,465.1" fill="#68a55e"/>
<polygon points="107.3,469.8 114.8,480 112.3,482.2 104.6,472.1" fill="#6eac61"/>
<polygon points="112.7,477.1 120.1,487.3 117.8,489.3 110.1,479.3" fill="#77b56a"/>
<polygon points="118,484.4 125.3,494.7 123.1,496.5 115.6,486.5" fill="#81be75"/>
<polygon points="123.2,491.7 130.1,502.3 128.2,503.9 121,493.6" fill="#8bc77f"/>
<polygon points="128.3,499.2 134.6,510.2 133,511.5 126.3,500.9" fill="#8cc880"/>
<polygon points="132.8,507 137.3,514.9 135.9,516 131.1,508.5" fill="#8cc880"/>
<polygon points="-10.5,369.2 0.8,373.2 -1,378.2 -11.8,374.4" fill="#7a9f84"/>
<polygon points="-2.7,372 9.3,376.2 7.6,381.2 -4.4,377" fill="#7a9f84"/>
<polygon points="5.9,375 18,379.2 16.4,384.2 4.2,380" fill="#7a9f84"/>
<polygon points="14.5,378 26.5,382.3 25,387.1 12.7,383" fill="#7a9f84"/>
<polygon points="23.3,381.1 33.2,386.1 31.1,390.3 21.8,386" fill="#7ba085"/>
<polygon points="31.3,384.2 38.5,391.5 35.9,394.9 29.7,388.8" fill="#83a88b"/>
<polygon points="36,389 44.9,397.9 42.4,400.9 33.3,392.5" fill="#8baf90"/>
<polygon points="42.4,395.3 50.5,404.1 47.9,406.6 39.9,398.5" fill="#8eb393"/>
<polygon points="48.6,401.7 55.7,410.5 52.6,412.6 46.2,404.5" fill="#89b08e"/>
<polygon points="53.4,407.6 61.3,417.6 58.1,419.8 50.4,409.8" fill="#84ad89"/>
<polygon points="59.1,414.7 67,424.6 63.6,427 55.9,417" fill="#7eaa84"/>
<polygon points="64.7,421.8 72.9,431.9 69.6,434.5 61.4,424.1" fill="#78a67d"/>
<polygon points="70.4,428.9 79,439.2 75.9,442 66.9,431.3" fill="#6d9e71"/>
<polygon points="76.6,436.4 84.8,446.1 81.8,448.9 73.5,439.2" fill="#639765"/>
<polygon points="82.6,443.3 90.5,453.2 87.6,455.8 79.4,446.1" fill="#588f59"/>
<polygon points="88.3,450.3 96.2,460.2 93.4,462.7 85.3,453" fill="#548d53"/>
<polygon points="94,457.4 101.9,467.3 99.1,469.7 91.1,460" fill="#5a9455"/>
<polygon points="99.6,464.4 107.5,474.4 104.9,476.7 96.8,466.9" fill="#5f9b57"/>
<polygon points="105.3,471.5 113,481.6 110.5,483.8 102.6,473.9" fill="#65a25a"/>
<polygon points="110.8,478.7 118.4,488.8 116.1,490.8 108.3,480.9" fill="#6dab61"/>
<polygon points="116.2,485.9 123.7,496.1 121.5,497.9 113.9,488" fill="#76b46a"/>
<polygon points="121.6,493.1 128.7,503.5 126.8,505.1 119.3,495" fill="#7fbd73"/>
<polygon points="126.8,500.5 133.4,511.2 131.8,512.5 124.7,502.2" fill="#80be74"/>
<polygon points="131.5,508.1 136.2,515.7 134.9,516.9 129.8,509.5" fill="#80be74"/>
<polygon points="-11.5,373 -0.5,376.9 -2.3,381.9 -12.8,378.2" fill="#5a8068"/>
<polygon points="-4,375.7 8,379.9 6.3,384.9 -5.7,380.7" fill="#5a8068"/>
<polygon points="4.6,378.7 16.8,382.9 15.2,387.9 2.9,383.7" fill="#5a8068"/>
<polygon points="13.2,381.7 25.4,385.9 23.8,390.7 11.5,386.7" fill="#5a8068"/>
<polygon points="22.2,384.7 31.6,389.2 29.6,393.4 20.7,389.7" fill="#5d836a"/>
<polygon points="30.1,387.6 36.6,394 34,397.4 28.4,392.3" fill="#6d9277"/>
<polygon points="34,391.6 43.1,400.1 40.7,403.2 31.3,395" fill="#7da183"/>
<polygon points="40.6,397.7 48.6,406 46,408.5 38.1,400.9" fill="#87ab8b"/>
<polygon points="46.8,403.8 53.4,412.1 50.3,414.3 44.5,406.6" fill="#82a987"/>
<polygon points="51.2,409.2 58.9,419.2 55.8,421.5 48.2,411.4" fill="#7ea783"/>
<polygon points="56.7,416.4 64.5,426.4 61.2,428.8 53.6,418.6" fill="#79a67f"/>
<polygon points="62.3,423.5 70.4,433.8 67.1,436.4 59,425.9" fill="#73a279"/>
<polygon points="67.8,430.7 76.7,441.2 73.5,444 64.4,433.1" fill="#68996d"/>
<polygon points="74.3,438.5 82.6,448.1 79.5,450.9 71.1,441.3" fill="#5d8f60"/>
<polygon points="80.2,445.3 88.4,455.1 85.4,457.8 77.1,448.1" fill="#518654"/>
<polygon points="86,452.3 94.1,462.1 91.3,464.6 83,455" fill="#4c834d"/>
<polygon points="91.8,459.3 99.8,469.1 97.1,471.5 88.9,461.9" fill="#518a4f"/>
<polygon points="97.5,466.3 105.5,476.1 102.9,478.4 94.7,468.7" fill="#569151"/>
<polygon points="103.3,473.3 111.1,483.2 108.7,485.4 100.6,475.6" fill="#5b9854"/>
<polygon points="108.9,480.4 116.7,490.3 114.3,492.3 106.4,482.6" fill="#63a15a"/>
<polygon points="114.5,487.5 122.1,497.4 119.9,499.2 112.1,489.5" fill="#6caa62"/>
<polygon points="119.9,494.5 127.3,504.7 125.4,506.3 117.7,496.4" fill="#75b369"/>
<polygon points="125.3,501.8 132.2,512.1 130.7,513.5 123.2,503.5" fill="#76b46a"/>
<polygon points="130.3,509.2 135.2,516.6 133.8,517.8 128.5,510.6" fill="#76b46a"/>
<polygon points="-12.4,376.9 -1.8,380.6 -3.5,385.6 -13.7,382.1" fill="#668c72"/>
<polygon points="-5.2,379.4 6.8,383.6 5,388.6 -7,384.4" fill="#668c72"/>
<polygon points="3.3,382.4 15.6,386.6 13.9,391.6 1.6,387.4" fill="#668c72"/>
<polygon points="11.9,385.4 24.2,389.5 22.6,394.3 10.2,390.4" fill="#668c72"/>
<polygon points="21.1,388.4 30.1,392.3 28,396.5 19.6,393.3" fill="#678e73"/>
<polygon points="28.9,391.1 34.7,396.5 32,399.8 27.2,395.8" fill="#6f9679"/>
<polygon points="32,394.1 41.3,402.4 38.9,405.4 29.3,397.6" fill="#779e7e"/>
<polygon points="38.7,400 46.7,407.8 44.1,410.4 36.2,403.2" fill="#7ba381"/>
<polygon points="45.1,405.8 51.1,413.7 48.1,415.9 42.8,408.7" fill="#76a07c"/>
<polygon points="49,410.8 56.6,420.9 53.4,423.2 46,412.9" fill="#729d78"/>
<polygon points="54.4,418 62,428.2 58.7,430.5 51.3,420.3" fill="#6d9a73"/>
<polygon points="59.9,425.3 68,435.7 64.6,438.3 56.6,427.6" fill="#68966e"/>
<polygon points="65.3,432.5 74.3,443.3 71.2,446.1 61.9,434.9" fill="#5e8e63"/>
<polygon points="71.9,440.6 80.3,450.2 77.2,452.9 68.8,443.4" fill="#548659"/>
<polygon points="77.9,447.4 86.2,457.1 83.2,459.7 74.8,450.2" fill="#4a7d4e"/>
<polygon points="83.8,454.3 92,464 89.1,466.5 80.8,457" fill="#467b49"/>
<polygon points="89.7,461.2 97.8,470.9 95,473.3 86.8,463.8" fill="#4b814b"/>
<polygon points="95.5,468.1 103.6,477.8 101,480.1 92.7,470.5" fill="#4f884d"/>
<polygon points="101.3,475 109.3,484.8 106.9,487 98.6,477.4" fill="#548f4f"/>
<polygon points="107,482 114.9,491.8 112.6,493.8 104.5,484.2" fill="#5b9754"/>
<polygon points="112.7,489 120.5,498.7 118.3,500.6 110.4,491.1" fill="#63a05a"/>
<polygon points="118.3,495.9 125.8,505.9 123.9,507.5 116,497.8" fill="#6ba95f"/>
<polygon points="123.8,503 131.1,513.1 129.5,514.5 121.7,504.7" fill="#6caa60"/>
<polygon points="129,510.2 134.2,517.4 132.8,518.6 127.3,511.7" fill="#6caa60"/>
<polygon points="-13.4,380.7 -3.1,384.3 -8.2,399.1 -17.2,396.1" fill="#6f967a"/>
<polygon points="-6.5,383.1 5.5,387.3 0.4,402.1 -11.7,398" fill="#6f967a"/>
<polygon points="2,386.1 14.4,390.3 9.5,405 -3.1,400.9" fill="#6f967a"/>
<polygon points="10.6,389.1 23,393 18.4,407.4 5.5,403.8" fill="#6f967a"/>
<polygon points="20,392 28.6,395.4 22.4,407.8 15.5,406.7" fill="#6f967a"/>
<polygon points="27.6,394.5 32.7,399 25,408.9 22.7,408.4" fill="#709879"/>
<polygon points="30,396.7 39.5,404.6 32.3,413.6 22,406.9" fill="#719978"/>
<polygon points="36.9,402.4 44.7,409.7 37.1,417.2 29.5,411.8" fill="#719977"/>
<polygon points="43.4,407.9 48.9,415.3 39.8,421.7 36.6,416.2" fill="#6c9673"/>
<polygon points="46.7,412.4 54.2,422.6 44.7,429.3 37.8,418.7" fill="#67946f"/>
<polygon points="52.1,419.7 59.6,429.9 49.7,436.9 42.8,426.3" fill="#63916b"/>
<polygon points="57.4,427 65.5,437.6 55.7,445.3 47.7,433.9" fill="#5d8d66"/>
<polygon points="62.8,434.3 72,445.4 62.7,453.7 52.6,441.5" fill="#55855d"/>
<polygon points="69.6,442.7 78,452.2 68.9,460.4 60.2,451" fill="#4c7d54"/>
<polygon points="75.6,449.5 84,459 75.2,466.9 66.4,457.7" fill="#44754b"/>
<polygon points="81.6,456.3 89.9,465.8 81.4,473.4 72.7,464.3" fill="#417346"/>
<polygon points="87.5,463.1 95.8,472.7 87.6,479.8 78.9,470.8" fill="#457a48"/>
<polygon points="93.4,469.9 101.6,479.5 93.9,486.4 85.1,477.2" fill="#4a814a"/>
<polygon points="99.3,476.8 107.5,486.4 100.2,492.8 91.3,483.8" fill="#4e884c"/>
<polygon points="105.2,483.7 113.2,493.2 106.4,499.1 97.7,490.3" fill="#54904f"/>
<polygon points="111,490.5 118.9,500.1 112.5,505.5 104,496.7" fill="#5b9853"/>
<polygon points="116.6,497.3 124.4,507.1 118.8,511.9 110,502.8" fill="#619f58"/>
<polygon points="122.2,504.3 129.9,514.1 125.2,518 116.2,509.4" fill="#62a058"/>
<polygon points="127.7,511.3 133.2,518.3 129.1,521.8 122.6,515.6" fill="#62a058"/>
</g></g>
<g filter="url(#b1)">
<polygon points="272,530 315.7,508.8 336,508 336,517 319,530" fill="#82b58d"/>
<polygon points="159,212 165,226 172,246 175,300 174,376 181.2,376 182,300 181.6,212" fill="#8cc274" opacity="0.6"/>
<path d="M160 213L165.5 227L172.3 246L175 300L174.5 370" fill="none" stroke="#c6e6ac" stroke-width="1.2" opacity="0.7"/>
<polygon points="129.5,300 181.8,300 181.2,376 188.4,392 186,530 134,530 131.5,380" fill="url(#gStalk2)" mask="url(#mFade)"/>
<path d="M172 386L163 400L159.5 420L160 530" fill="none" stroke="#a8d6a0" stroke-width="1.3" opacity="0.7"/>
</g>
<g filter="url(#b3)">
<polygon points="131,214 158,213.5 161,219 150,220.5 131,218" fill="#5a954e" opacity="0.9"/>
</g>
<g filter="url(#b1)">
<polygon points="127.5,203.5 134,199.5 146,202.5 160,209.5 157.5,214 131,214.8" fill="#cfe6a0"/>
<polygon points="170,387 181,379.5 190,376 195,384 184,389 174,392" fill="#d6e6b4"/>
<polygon points="129,512 137,508 146,511 154,516 154,522 140,520 131,521" fill="#c8d8aa"/>
</g>
</g>
<path d="M151 208.4H196.5" stroke="#fff" stroke-width="1.6"/>
<path d="M181.5 385.2H227" stroke="#fff" stroke-width="1.6"/>
<text x="209.3" y="208.6" class="lc">Leaf collar</text>
<text x="232.8" y="386" class="lc">Leaf collar</text>
<text x="7" y="27.7" class="pl" style="fill:#fff">A</text>
</g>

<g id="chartB">
<path d="M385.1 9.2H710.4V239.6H385.1" fill="none" stroke="#777" stroke-width="1.4"/>
<path d="M388.7 8.7V240.1" stroke="#2a2a2a" stroke-width="1.0"/>
<text transform="translate(380.7 242.7) scale(0.945 1)" class="tk" style="font-size:9.4px" text-anchor="end">0</text>
<text transform="translate(380.7 196.62) scale(0.945 1)" class="tk" style="font-size:9.4px" text-anchor="end">50</text>
<text transform="translate(380.7 150.54) scale(0.945 1)" class="tk" style="font-size:9.4px" text-anchor="end">100</text>
<text transform="translate(380.7 104.46) scale(0.945 1)" class="tk" style="font-size:9.4px" text-anchor="end">150</text>
<text transform="translate(380.7 58.38) scale(0.945 1)" class="tk" style="font-size:9.4px" text-anchor="end">200</text>
<text transform="translate(380.7 12.3) scale(0.945 1)" class="tk" style="font-size:9.4px" text-anchor="end">250</text>
<text transform="translate(403.1 257.7) scale(0.945 1)" class="tk" style="font-size:9.4px" text-anchor="middle">1</text>
<text transform="translate(421.25 257.7) scale(0.945 1)" class="tk" style="font-size:9.4px" text-anchor="middle">2</text>
<text transform="translate(439.4 257.7) scale(0.945 1)" class="tk" style="font-size:9.4px" text-anchor="middle">3</text>
<text transform="translate(457.55 257.7) scale(0.945 1)" class="tk" style="font-size:9.4px" text-anchor="middle">4</text>
<text transform="translate(475.7 257.7) scale(0.945 1)" class="tk" style="font-size:9.4px" text-anchor="middle">5</text>
<text transform="translate(493.85 257.7) scale(0.945 1)" class="tk" style="font-size:9.4px" text-anchor="middle">6</text>
<text transform="translate(512 257.7) scale(0.945 1)" class="tk" style="font-size:9.4px" text-anchor="middle">7</text>
<text transform="translate(530.15 257.7) scale(0.945 1)" class="tk" style="font-size:9.4px" text-anchor="middle">8</text>
<text transform="translate(548.3 257.7) scale(0.945 1)" class="tk" style="font-size:9.4px" text-anchor="middle">9</text>
<text transform="translate(566.45 257.7) scale(0.945 1)" class="tk" style="font-size:9.4px" text-anchor="middle">10</text>
<text transform="translate(584.6 257.7) scale(0.945 1)" class="tk" style="font-size:9.4px" text-anchor="middle">11</text>
<text transform="translate(602.75 257.7) scale(0.945 1)" class="tk" style="font-size:9.4px" text-anchor="middle">12</text>
<text transform="translate(620.9 257.7) scale(0.945 1)" class="tk" style="font-size:9.4px" text-anchor="middle">13</text>
<text transform="translate(639.05 257.7) scale(0.945 1)" class="tk" style="font-size:9.4px" text-anchor="middle">14</text>
<text transform="translate(657.2 257.7) scale(0.945 1)" class="tk" style="font-size:9.4px" text-anchor="middle">15</text>
<text transform="translate(675.35 257.7) scale(0.945 1)" class="tk" style="font-size:9.4px" text-anchor="middle">16</text>
<text transform="translate(693.5 257.7) scale(0.945 1)" class="tk" style="font-size:9.4px" text-anchor="middle">17</text>
<path d="M385.1 239.6H388.7M385.1 193.52H388.7M385.1 147.44H388.7M385.1 101.36H388.7M385.1 55.28H388.7M385.1 9.2H388.7M403.1 239.6V243M421.25 239.6V243M439.4 239.6V243M457.55 239.6V243M475.7 239.6V243M493.85 239.6V243M512 239.6V243M530.15 239.6V243M548.3 239.6V243M566.45 239.6V243M584.6 239.6V243M602.75 239.6V243M620.9 239.6V243M639.05 239.6V243M657.2 239.6V243M675.35 239.6V243M693.5 239.6V243" stroke="#333" stroke-width="0.9" fill="none"/>
<text transform="translate(358.3 123.2) rotate(-90)" class="lab" style="font-size:12.1px" text-anchor="middle">Plant height (cm)</text>
<text x="548.3" y="273" class="lab" text-anchor="middle">V stages</text>
<circle cx="403.1" cy="220.9" r="2.75" fill="#000"/>
<circle cx="403.1" cy="227.3" r="2.75" fill="#000"/>
<path d="M403.1 221.6V222M403.1 224.4V227.1M396.3 221.6H409.9M396.3 227.1H409.9" stroke="#151515" stroke-width="1" fill="none"/>
<rect x="397.3" y="222" width="11.6" height="2.4" fill="#c9c9c9" stroke="#1c1c1c" stroke-width="1"/>
<path d="M397.3 223.2H408.9" stroke="#1c1c1c" stroke-width="1"/>
<circle cx="421.25" cy="207" r="2.75" fill="#000"/>
<circle cx="421.25" cy="217.3" r="2.75" fill="#000"/>
<path d="M421.25 208V211.4M421.25 213.8V217.3M414.45 208H428.05M414.45 217.3H428.05" stroke="#151515" stroke-width="1" fill="none"/>
<rect x="415.45" y="211.4" width="11.6" height="2.4" fill="#c9c9c9" stroke="#1c1c1c" stroke-width="1"/>
<path d="M415.45 212.6H427.05" stroke="#1c1c1c" stroke-width="1"/>
<circle cx="439.4" cy="190.9" r="2.75" fill="#000"/>
<circle cx="439.4" cy="205.6" r="2.75" fill="#000"/>
<path d="M439.4 191.5V192.3M439.4 204.2V205.4M432.6 191.5H446.2M432.6 205.4H446.2" stroke="#151515" stroke-width="1" fill="none"/>
<rect x="433.6" y="192.3" width="11.6" height="11.9" fill="#c9c9c9" stroke="#1c1c1c" stroke-width="1"/>
<path d="M433.6 197.2H445.2" stroke="#1c1c1c" stroke-width="1"/>
<circle cx="457.55" cy="174.5" r="2.75" fill="#000"/>
<circle cx="457.55" cy="188.5" r="2.75" fill="#000"/>
<path d="M457.55 175.6V176.1M457.55 184.2V188.2M450.75 175.6H464.35M450.75 188.2H464.35" stroke="#151515" stroke-width="1" fill="none"/>
<rect x="451.75" y="176.1" width="11.6" height="8.1" fill="#c9c9c9" stroke="#1c1c1c" stroke-width="1"/>
<path d="M452.25 181.2H462.85" stroke="#8a8a8a" stroke-width="0.8"/>
<path d="M451.75 178.6H463.35" stroke="#1c1c1c" stroke-width="1"/>
<circle cx="475.7" cy="161.8" r="2.75" fill="#000"/>
<circle cx="475.7" cy="173" r="2.75" fill="#000"/>
<path d="M475.7 162.7V165.3M475.7 169.4V171.3M468.9 162.7H482.5M468.9 171.3H482.5" stroke="#151515" stroke-width="1" fill="none"/>
<rect x="469.9" y="165.3" width="11.6" height="4.1" fill="#c9c9c9" stroke="#1c1c1c" stroke-width="1"/>
<path d="M469.9 167.5H481.5" stroke="#1c1c1c" stroke-width="1"/>
<circle cx="493.85" cy="140.6" r="2.75" fill="#000"/>
<circle cx="493.85" cy="151.8" r="2.75" fill="#000"/>
<path d="M493.85 141.3V143.4M493.85 149.7V151.4M487.05 141.3H500.65M487.05 151.4H500.65" stroke="#151515" stroke-width="1" fill="none"/>
<rect x="488.05" y="143.4" width="11.6" height="6.3" fill="#c9c9c9" stroke="#1c1c1c" stroke-width="1"/>
<path d="M488.05 146.5H499.65" stroke="#1c1c1c" stroke-width="1"/>
<circle cx="512" cy="137" r="2.75" fill="#000"/>
<circle cx="512" cy="155" r="2.75" fill="#000"/>
<path d="M512 138.5V144M512 149.7V154.3M505.2 138.5H518.8M505.2 154.3H518.8" stroke="#151515" stroke-width="1" fill="none"/>
<rect x="506.2" y="144" width="11.6" height="5.7" fill="#c9c9c9" stroke="#1c1c1c" stroke-width="1"/>
<path d="M506.2 146.8H517.8" stroke="#1c1c1c" stroke-width="1"/>
<circle cx="530.15" cy="138.5" r="2.75" fill="#000"/>
<path d="M530.15 130.7V131.4M530.15 136.8V137.8M523.35 130.7H536.95M523.35 137.8H536.95" stroke="#151515" stroke-width="1" fill="none"/>
<rect x="524.35" y="131.4" width="11.6" height="5.4" fill="#c9c9c9" stroke="#1c1c1c" stroke-width="1"/>
<path d="M524.35 134H535.95" stroke="#1c1c1c" stroke-width="1"/>
<circle cx="548.3" cy="121.6" r="2.75" fill="#000"/>
<circle cx="548.3" cy="137" r="2.75" fill="#000"/>
<path d="M548.3 122V125.8M548.3 131.4V136.8M541.5 122H555.1M541.5 136.8H555.1" stroke="#151515" stroke-width="1" fill="none"/>
<rect x="542.5" y="125.8" width="11.6" height="5.6" fill="#c9c9c9" stroke="#1c1c1c" stroke-width="1"/>
<path d="M542.5 128.4H554.1" stroke="#1c1c1c" stroke-width="1"/>
<circle cx="566.45" cy="116.8" r="2.75" fill="#000"/>
<path d="M566.45 98.3V99M566.45 112.3V116.4M559.65 98.3H573.25M559.65 116.4H573.25" stroke="#151515" stroke-width="1" fill="none"/>
<rect x="560.65" y="99" width="11.6" height="13.3" fill="#c9c9c9" stroke="#1c1c1c" stroke-width="1"/>
<path d="M561.15 105.6H571.75" stroke="#8a8a8a" stroke-width="0.8"/>
<path d="M560.65 108H572.25" stroke="#1c1c1c" stroke-width="1"/>
<circle cx="584.6" cy="87" r="2.75" fill="#000"/>
<circle cx="584.6" cy="107.1" r="2.75" fill="#000"/>
<path d="M584.6 88.5V97.3M584.6 101.4V106.7M577.8 88.5H591.4M577.8 106.7H591.4" stroke="#151515" stroke-width="1" fill="none"/>
<rect x="578.8" y="97.3" width="11.6" height="4.1" fill="#c9c9c9" stroke="#1c1c1c" stroke-width="1"/>
<path d="M578.8 99.6H590.4" stroke="#1c1c1c" stroke-width="1"/>
<circle cx="602.75" cy="80.7" r="2.75" fill="#000"/>
<circle cx="602.75" cy="100.1" r="2.75" fill="#000"/>
<path d="M602.75 81.2V87.8M602.75 96.6V99.7M595.95 81.2H609.55M595.95 99.7H609.55" stroke="#151515" stroke-width="1" fill="none"/>
<rect x="596.95" y="87.8" width="11.6" height="8.8" fill="#c9c9c9" stroke="#1c1c1c" stroke-width="1"/>
<path d="M597.45 91.2H608.05" stroke="#8a8a8a" stroke-width="0.8"/>
<path d="M596.95 92.6H608.55" stroke="#1c1c1c" stroke-width="1"/>
<circle cx="620.9" cy="66.9" r="2.75" fill="#000"/>
<circle cx="620.9" cy="92" r="2.75" fill="#000"/>
<path d="M620.9 67.1V71.8M620.9 88V91.5M614.1 67.1H627.7M614.1 91.5H627.7" stroke="#151515" stroke-width="1" fill="none"/>
<rect x="615.1" y="71.8" width="11.6" height="16.2" fill="#c9c9c9" stroke="#1c1c1c" stroke-width="1"/>
<path d="M615.1 85H626.7" stroke="#1c1c1c" stroke-width="1"/>
<circle cx="639.05" cy="64" r="2.75" fill="#000"/>
<circle cx="639.05" cy="89.7" r="2.75" fill="#000"/>
<path d="M639.05 64.4V67.2M639.05 83.6V89.1M632.25 64.4H645.85M632.25 89.1H645.85" stroke="#151515" stroke-width="1" fill="none"/>
<rect x="633.25" y="67.2" width="11.6" height="16.4" fill="#c9c9c9" stroke="#1c1c1c" stroke-width="1"/>
<path d="M633.25 76.6H644.85" stroke="#1c1c1c" stroke-width="1"/>
<circle cx="657.2" cy="54.1" r="2.75" fill="#000"/>
<circle cx="657.2" cy="75.2" r="2.75" fill="#000"/>
<path d="M657.2 54.8V55.2M657.2 70.3V74.1M650.4 54.8H664M650.4 74.1H664" stroke="#151515" stroke-width="1" fill="none"/>
<rect x="651.4" y="55.2" width="11.6" height="15.1" fill="#c9c9c9" stroke="#1c1c1c" stroke-width="1"/>
<path d="M651.4 62.7H663" stroke="#1c1c1c" stroke-width="1"/>
<circle cx="675.35" cy="42.9" r="2.75" fill="#000"/>
<circle cx="675.35" cy="65.2" r="2.75" fill="#000"/>
<path d="M675.35 44.2V51.6M675.35 61.2V64.9M668.55 44.2H682.15M668.55 64.9H682.15" stroke="#151515" stroke-width="1" fill="none"/>
<rect x="669.55" y="51.6" width="11.6" height="9.6" fill="#c9c9c9" stroke="#1c1c1c" stroke-width="1"/>
<path d="M669.55 57.6H681.15" stroke="#1c1c1c" stroke-width="1"/>
<path d="M669.55 54.5H681.15" stroke="#1c1c1c" stroke-width="1"/>
<circle cx="693.5" cy="34.6" r="2.75" fill="#000"/>
<circle cx="693.5" cy="61.7" r="2.75" fill="#000"/>
<path d="M693.5 35.9V44.6M693.5 55.5V60.7M686.7 35.9H700.3M686.7 60.7H700.3" stroke="#151515" stroke-width="1" fill="none"/>
<rect x="687.7" y="44.6" width="11.6" height="10.9" fill="#c9c9c9" stroke="#1c1c1c" stroke-width="1"/>
<path d="M687.7 51.2H699.3" stroke="#1c1c1c" stroke-width="1"/>
<path d="M400.9 237.2V221.6Q400.9 220.6 401.9 220.6H417.1Q418.1 220.6 418.1 221.6V225.9" fill="none" stroke="#000" stroke-width="1.35"/>
<path d="M420.5 201V180.4Q420.5 179.4 421.5 179.4H436.6Q437.6 179.4 437.6 180.4V185.7" fill="none" stroke="#000" stroke-width="1.35"/>
<path d="M439.4 185.7V167Q439.4 166 440.4 166H455.7Q456.7 166 456.7 167V168.4" fill="none" stroke="#000" stroke-width="1.35"/>
<path d="M458.5 168.4V153.3Q458.5 152.3 459.5 152.3H475.6Q476.6 152.3 476.6 153.3V155.6" fill="none" stroke="#000" stroke-width="1.35"/>
<path d="M476.9 155.3V132.4Q476.9 131.4 477.9 131.4H492.3Q493.3 131.4 493.3 132.4V136.3" fill="none" stroke="#000" stroke-width="1.35"/>
<path d="M512.7 130.7V124.4Q512.7 123.4 513.7 123.4H529.6Q530.6 123.4 530.6 124.4V127.2" fill="none" stroke="#000" stroke-width="1.35"/>
<path d="M531.3 127.2V113.5Q531.3 112.5 532.3 112.5H547.8Q548.8 112.5 548.8 113.5V115.3" fill="none" stroke="#000" stroke-width="1.35"/>
<path d="M549.9 115.3V93.5Q549.9 92.5 550.9 92.5H565.6Q566.6 92.5 566.6 93.5V94" fill="none" stroke="#000" stroke-width="1.35"/>
<path d="M568.8 94V79.2Q568.8 78.2 569.8 78.2H584.2Q585.2 78.2 585.2 79.2V81.4" fill="none" stroke="#000" stroke-width="1.35"/>
<path d="M586.3 81.4V71.2Q586.3 70.2 587.3 70.2H600.4Q601.4 70.2 601.4 71.2V75.1" fill="none" stroke="#000" stroke-width="1.35"/>
<path d="M602.6 75.1V58.1Q602.6 57.1 603.6 57.1H619.5Q620.5 57.1 620.5 58.1V61.6" fill="none" stroke="#000" stroke-width="1.35"/>
<path d="M639.1 59.3V47.7Q639.1 46.7 640.1 46.7H655.7Q656.7 46.7 656.7 47.7V50.2" fill="none" stroke="#000" stroke-width="1.35"/>
<text x="409.4" y="191.7" class="ast">*</text>
<text x="429.4" y="175.6" class="ast">*</text>
<text x="449.1" y="164.7" class="ast">*</text>
<text x="467" y="154.3" class="ast">*</text>
<text x="485.7" y="133.3" class="ast">*</text>
<text x="521.1" y="121.1" class="ast">*</text>
<text x="538.2" y="110.3" class="ast">*</text>
<text x="556.9" y="92.6" class="ast">*</text>
<text x="575.4" y="80.2" class="ast">*</text>
<text x="593.7" y="68.7" class="ast">*</text>
<text x="612.3" y="59.1" class="ast">*</text>
<text x="647.1" y="49.7" class="ast">*</text>
<text x="348.6" y="14.2" class="pl">B</text>
</g>
<g id="chartC">
<path d="M382.9 285.2H706.8V523.6H382.9" fill="none" stroke="#3a3a3a" stroke-width="1.0"/>
<path d="M386.5 284.7V524.1" stroke="#2a2a2a" stroke-width="1.0"/>
<text transform="translate(378.5 526.8) scale(0.97 1)" class="tk" style="font-size:9.0px" text-anchor="end">0</text>
<text transform="translate(378.5 496.96) scale(0.97 1)" class="tk" style="font-size:9.0px" text-anchor="end">10</text>
<text transform="translate(378.5 467.12) scale(0.97 1)" class="tk" style="font-size:9.0px" text-anchor="end">20</text>
<text transform="translate(378.5 437.28) scale(0.97 1)" class="tk" style="font-size:9.0px" text-anchor="end">30</text>
<text transform="translate(378.5 407.44) scale(0.97 1)" class="tk" style="font-size:9.0px" text-anchor="end">40</text>
<text transform="translate(378.5 377.6) scale(0.97 1)" class="tk" style="font-size:9.0px" text-anchor="end">50</text>
<text transform="translate(378.5 347.76) scale(0.97 1)" class="tk" style="font-size:9.0px" text-anchor="end">60</text>
<text transform="translate(378.5 317.92) scale(0.97 1)" class="tk" style="font-size:9.0px" text-anchor="end">70</text>
<text transform="translate(378.5 288.08) scale(0.97 1)" class="tk" style="font-size:9.0px" text-anchor="end">80</text>
<text transform="translate(396.1 540) scale(0.97 1)" class="tk" style="font-size:9.0px" text-anchor="middle">1</text>
<text transform="translate(414.9 540) scale(0.97 1)" class="tk" style="font-size:9.0px" text-anchor="middle">2</text>
<text transform="translate(433.7 540) scale(0.97 1)" class="tk" style="font-size:9.0px" text-anchor="middle">3</text>
<text transform="translate(452.5 540) scale(0.97 1)" class="tk" style="font-size:9.0px" text-anchor="middle">4</text>
<text transform="translate(471.3 540) scale(0.97 1)" class="tk" style="font-size:9.0px" text-anchor="middle">5</text>
<text transform="translate(490.1 540) scale(0.97 1)" class="tk" style="font-size:9.0px" text-anchor="middle">6</text>
<text transform="translate(508.9 540) scale(0.97 1)" class="tk" style="font-size:9.0px" text-anchor="middle">7</text>
<text transform="translate(527.7 540) scale(0.97 1)" class="tk" style="font-size:9.0px" text-anchor="middle">8</text>
<text transform="translate(546.5 540) scale(0.97 1)" class="tk" style="font-size:9.0px" text-anchor="middle">9</text>
<text transform="translate(565.3 540) scale(0.97 1)" class="tk" style="font-size:9.0px" text-anchor="middle">10</text>
<text transform="translate(584.1 540) scale(0.97 1)" class="tk" style="font-size:9.0px" text-anchor="middle">11</text>
<text transform="translate(602.9 540) scale(0.97 1)" class="tk" style="font-size:9.0px" text-anchor="middle">12</text>
<text transform="translate(621.7 540) scale(0.97 1)" class="tk" style="font-size:9.0px" text-anchor="middle">13</text>
<text transform="translate(640.5 540) scale(0.97 1)" class="tk" style="font-size:9.0px" text-anchor="middle">14</text>
<text transform="translate(659.3 540) scale(0.97 1)" class="tk" style="font-size:9.0px" text-anchor="middle">15</text>
<text transform="translate(678.1 540) scale(0.97 1)" class="tk" style="font-size:9.0px" text-anchor="middle">16</text>
<text transform="translate(696.9 540) scale(0.97 1)" class="tk" style="font-size:9.0px" text-anchor="middle">17</text>
<path d="M382.9 523.7H386.5M382.9 493.86H386.5M382.9 464.02H386.5M382.9 434.18H386.5M382.9 404.34H386.5M382.9 374.5H386.5M382.9 344.66H386.5M382.9 314.82H386.5M382.9 284.98H386.5M396.1 523.6V527.2M414.9 523.6V527.2M433.7 523.6V527.2M452.5 523.6V527.2M471.3 523.6V527.2M490.1 523.6V527.2M508.9 523.6V527.2M527.7 523.6V527.2M546.5 523.6V527.2M565.3 523.6V527.2M584.1 523.6V527.2M602.9 523.6V527.2M621.7 523.6V527.2M640.5 523.6V527.2M659.3 523.6V527.2M678.1 523.6V527.2M696.9 523.6V527.2" stroke="#333" stroke-width="0.9" fill="none"/>
<text transform="translate(360.4 403.1) rotate(-90)" class="lab" style="font-size:12.35px" text-anchor="middle">Days after planting</text>
<text x="547.2" y="555.6" class="lab" text-anchor="middle">V stages</text>
<circle cx="396.1" cy="487.6" r="2.75" fill="#000"/>
<path d="M396.1 490.6V499.8M396.1 506.2V511.4M389.2 490.6H403M389.2 511.4H403" stroke="#151515" stroke-width="1" fill="none"/>
<rect x="390.2" y="499.8" width="11.8" height="6.4" fill="#c9c9c9" stroke="#1c1c1c" stroke-width="1"/>
<path d="M390.7 501.6H401.5" stroke="#8a8a8a" stroke-width="0.8"/>
<path d="M390.2 502.7H402" stroke="#1c1c1c" stroke-width="1"/>
<circle cx="414.9" cy="511.4" r="2.75" fill="#000"/>
<path d="M414.9 487.4V492.7M414.9 500.3V505.1M408 487.4H421.8M408 505.1H421.8" stroke="#151515" stroke-width="1" fill="none"/>
<rect x="409" y="492.7" width="11.8" height="7.6" fill="#c9c9c9" stroke="#1c1c1c" stroke-width="1"/>
<path d="M409.5 497.4H420.3" stroke="#8a8a8a" stroke-width="0.8"/>
<path d="M409 496.3H420.8" stroke="#1c1c1c" stroke-width="1"/>
<circle cx="433.7" cy="499.7" r="2.75" fill="#000"/>
<path d="M433.7 463.8V472.2M433.7 485.5V493.5M426.8 463.8H440.6M426.8 493.5H440.6" stroke="#151515" stroke-width="1" fill="none"/>
<rect x="427.8" y="472.2" width="11.8" height="13.3" fill="#c9c9c9" stroke="#1c1c1c" stroke-width="1"/>
<path d="M428.3 477H439.1" stroke="#8a8a8a" stroke-width="0.8"/>
<path d="M427.8 478.6H439.6" stroke="#1c1c1c" stroke-width="1"/>
<circle cx="452.5" cy="446" r="2.75" fill="#000"/>
<circle cx="452.5" cy="455" r="2.75" fill="#000"/>
<circle cx="452.5" cy="475.2" r="2.75" fill="#000"/>
<circle cx="452.5" cy="478.8" r="2.75" fill="#000"/>
<path d="M452.5 455.8V458M452.5 467.3V474.6M445.6 455.8H459.4M445.6 474.6H459.4" stroke="#151515" stroke-width="1" fill="none"/>
<rect x="446.6" y="458" width="11.8" height="9.3" fill="#c9c9c9" stroke="#1c1c1c" stroke-width="1"/>
<path d="M447.1 462H457.9" stroke="#8a8a8a" stroke-width="0.8"/>
<path d="M446.6 463.3H458.4" stroke="#1c1c1c" stroke-width="1"/>
<circle cx="471.3" cy="437.1" r="2.75" fill="#000"/>
<circle cx="471.3" cy="469.8" r="2.75" fill="#000"/>
<path d="M471.3 445.8V454.1M471.3 464.4V468.6M464.4 445.8H478.2M464.4 468.6H478.2" stroke="#151515" stroke-width="1" fill="none"/>
<rect x="465.4" y="454.1" width="11.8" height="10.3" fill="#c9c9c9" stroke="#1c1c1c" stroke-width="1"/>
<path d="M465.9 458.2H476.7" stroke="#8a8a8a" stroke-width="0.8"/>
<path d="M465.4 459.3H477.2" stroke="#1c1c1c" stroke-width="1"/>
<circle cx="490.1" cy="415.5" r="2.75" fill="#000"/>
<circle cx="490.1" cy="418.4" r="2.75" fill="#000"/>
<circle cx="490.1" cy="454" r="2.75" fill="#000"/>
<circle cx="490.1" cy="458.6" r="2.75" fill="#000"/>
<path d="M490.1 421V433.5M490.1 448.8V453.6M483.2 421H497M483.2 453.6H497" stroke="#151515" stroke-width="1" fill="none"/>
<rect x="484.2" y="433.5" width="11.8" height="15.3" fill="#c9c9c9" stroke="#1c1c1c" stroke-width="1"/>
<path d="M484.7 439H495.5" stroke="#8a8a8a" stroke-width="0.8"/>
<path d="M484.2 440.3H496" stroke="#1c1c1c" stroke-width="1"/>
<circle cx="508.9" cy="407.2" r="2.75" fill="#000"/>
<circle cx="508.9" cy="416.2" r="2.75" fill="#000"/>
<circle cx="508.9" cy="452.1" r="2.75" fill="#000"/>
<path d="M508.9 417.1V425.3M508.9 434.4V449.4M502 417.1H515.8M502 449.4H515.8" stroke="#151515" stroke-width="1" fill="none"/>
<rect x="503" y="425.3" width="11.8" height="9.1" fill="#c9c9c9" stroke="#1c1c1c" stroke-width="1"/>
<path d="M503.5 429.2H514.3" stroke="#8a8a8a" stroke-width="0.8"/>
<path d="M503 430.6H514.8" stroke="#1c1c1c" stroke-width="1"/>
<circle cx="527.7" cy="407.1" r="2.75" fill="#000"/>
<circle cx="527.7" cy="452.2" r="2.75" fill="#000"/>
<circle cx="527.7" cy="460.8" r="2.75" fill="#000"/>
<path d="M527.7 416.4V418.5M527.7 434.5V448.2M520.8 416.4H534.6M520.8 448.2H534.6" stroke="#151515" stroke-width="1" fill="none"/>
<rect x="521.8" y="418.5" width="11.8" height="16" fill="#c9c9c9" stroke="#1c1c1c" stroke-width="1"/>
<path d="M522.3 426.4H533.1" stroke="#8a8a8a" stroke-width="0.8"/>
<path d="M521.8 427.8H533.6" stroke="#1c1c1c" stroke-width="1"/>
<circle cx="546.5" cy="398" r="2.75" fill="#000"/>
<circle cx="546.5" cy="404.4" r="2.75" fill="#000"/>
<circle cx="546.5" cy="452.2" r="2.75" fill="#000"/>
<path d="M546.5 406V419.3M546.5 429.5V446.9M539.6 406H553.4M539.6 446.9H553.4" stroke="#151515" stroke-width="1" fill="none"/>
<rect x="540.6" y="419.3" width="11.8" height="10.2" fill="#c9c9c9" stroke="#1c1c1c" stroke-width="1"/>
<path d="M541.1 422.4H551.9" stroke="#8a8a8a" stroke-width="0.8"/>
<path d="M540.6 423.6H552.4" stroke="#1c1c1c" stroke-width="1"/>
<circle cx="565.3" cy="379.6" r="2.75" fill="#000"/>
<circle cx="565.3" cy="382.8" r="2.75" fill="#000"/>
<circle cx="565.3" cy="422" r="2.75" fill="#000"/>
<circle cx="565.3" cy="433.9" r="2.75" fill="#000"/>
<path d="M565.3 385.5V396.6M565.3 407.5V421.3M558.4 385.5H572.2M558.4 421.3H572.2" stroke="#151515" stroke-width="1" fill="none"/>
<rect x="559.4" y="396.6" width="11.8" height="10.9" fill="#c9c9c9" stroke="#1c1c1c" stroke-width="1"/>
<path d="M559.9 400H570.7" stroke="#8a8a8a" stroke-width="0.8"/>
<path d="M559.4 401.1H571.2" stroke="#1c1c1c" stroke-width="1"/>
<circle cx="584.1" cy="377" r="2.75" fill="#000"/>
<circle cx="584.1" cy="380.6" r="2.75" fill="#000"/>
<circle cx="584.1" cy="422.2" r="2.75" fill="#000"/>
<circle cx="584.1" cy="433.9" r="2.75" fill="#000"/>
<path d="M584.1 381.5V383.4M584.1 402V417.7M577.2 381.5H591M577.2 417.7H591" stroke="#151515" stroke-width="1" fill="none"/>
<rect x="578.2" y="383.4" width="11.8" height="18.6" fill="#c9c9c9" stroke="#1c1c1c" stroke-width="1"/>
<path d="M578.2 392.3H590" stroke="#1c1c1c" stroke-width="1"/>
<circle cx="602.9" cy="359.7" r="2.75" fill="#000"/>
<circle cx="602.9" cy="401.2" r="2.75" fill="#000"/>
<path d="M602.9 363.3V374.6M602.9 392.6V398.5M596 363.3H609.8M596 398.5H609.8" stroke="#151515" stroke-width="1" fill="none"/>
<rect x="597" y="374.6" width="11.8" height="18" fill="#c9c9c9" stroke="#1c1c1c" stroke-width="1"/>
<path d="M597 383.4H608.8" stroke="#1c1c1c" stroke-width="1"/>
<circle cx="621.7" cy="329.7" r="2.75" fill="#000"/>
<circle cx="621.7" cy="338.7" r="2.75" fill="#000"/>
<circle cx="621.7" cy="386.2" r="2.75" fill="#000"/>
<circle cx="621.7" cy="389.3" r="2.75" fill="#000"/>
<path d="M621.7 339.7V356.1M621.7 366.2V383.1M614.8 339.7H628.6M614.8 383.1H628.6" stroke="#151515" stroke-width="1" fill="none"/>
<rect x="615.8" y="356.1" width="11.8" height="10.1" fill="#c9c9c9" stroke="#1c1c1c" stroke-width="1"/>
<path d="M616.3 358.9H627.1" stroke="#8a8a8a" stroke-width="0.8"/>
<path d="M615.8 360.1H627.6" stroke="#1c1c1c" stroke-width="1"/>
<circle cx="640.5" cy="318" r="2.75" fill="#000"/>
<circle cx="640.5" cy="324" r="2.75" fill="#000"/>
<circle cx="640.5" cy="377.5" r="2.75" fill="#000"/>
<path d="M640.5 325.2V337.6M640.5 368.2V374.3M633.6 325.2H647.4M633.6 374.3H647.4" stroke="#151515" stroke-width="1" fill="none"/>
<rect x="634.6" y="337.6" width="11.8" height="30.6" fill="#c9c9c9" stroke="#1c1c1c" stroke-width="1"/>
<path d="M634.6 353.7H646.4" stroke="#1c1c1c" stroke-width="1"/>
<circle cx="659.3" cy="314.9" r="2.75" fill="#000"/>
<circle cx="659.3" cy="318" r="2.75" fill="#000"/>
<circle cx="659.3" cy="362.6" r="2.75" fill="#000"/>
<path d="M659.3 319.8V329.3M659.3 350.7V359.8M652.4 319.8H666.2M652.4 359.8H666.2" stroke="#151515" stroke-width="1" fill="none"/>
<rect x="653.4" y="329.3" width="11.8" height="21.4" fill="#c9c9c9" stroke="#1c1c1c" stroke-width="1"/>
<path d="M653.4 343.3H665.2" stroke="#1c1c1c" stroke-width="1"/>
<circle cx="678.1" cy="314.8" r="2.75" fill="#000"/>
<circle cx="678.1" cy="362.7" r="2.75" fill="#000"/>
<path d="M678.1 318V320.5M678.1 348.4V359.8M671.2 318H685M671.2 359.8H685" stroke="#151515" stroke-width="1" fill="none"/>
<rect x="672.2" y="320.5" width="11.8" height="27.9" fill="#c9c9c9" stroke="#1c1c1c" stroke-width="1"/>
<path d="M672.2 335.9H684" stroke="#1c1c1c" stroke-width="1"/>
<circle cx="696.9" cy="308.8" r="2.75" fill="#000"/>
<circle cx="696.9" cy="312" r="2.75" fill="#000"/>
<circle cx="696.9" cy="353.6" r="2.75" fill="#000"/>
<path d="M696.9 313V330.5M696.9 339.5V344.8M690 313H703.8M690 344.8H703.8" stroke="#151515" stroke-width="1" fill="none"/>
<rect x="691" y="330.5" width="11.8" height="9" fill="#c9c9c9" stroke="#1c1c1c" stroke-width="1"/>
<path d="M691 331.9H702.8" stroke="#1c1c1c" stroke-width="1"/>
<path d="M398 479.4V475.2Q398 474.2 399 474.2H415.2Q416.2 474.2 416.2 475.2V483.7" fill="none" stroke="#000" stroke-width="1.35"/>
<path d="M417.4 483.7V451.7Q417.4 450.7 418.4 450.7H433.2Q434.2 450.7 434.2 451.7V460.1" fill="none" stroke="#000" stroke-width="1.35"/>
<path d="M435.8 460.1V436.6Q435.8 435.6 436.8 435.6H452.3Q453.3 435.6 453.3 436.6V440.3" fill="none" stroke="#000" stroke-width="1.35"/>
<path d="M454.6 440.3V427.3Q454.6 426.3 455.6 426.3H471.3Q472.3 426.3 472.3 427.3V430.3" fill="none" stroke="#000" stroke-width="1.35"/>
<path d="M473.5 430.3V408.8Q473.5 407.8 474.5 407.8H489.7Q490.7 407.8 490.7 408.8V411.8" fill="none" stroke="#000" stroke-width="1.35"/>
<path d="M492.2 411.8V401.2Q492.2 400.2 493.2 400.2H507.4Q508.4 400.2 508.4 401.2V403" fill="none" stroke="#000" stroke-width="1.35"/>
<path d="M547.1 391.4V372.4Q547.1 371.4 548.1 371.4H565.2Q566.2 371.4 566.2 372.4V375.4" fill="none" stroke="#000" stroke-width="1.35"/>
<path d="M585 370.7V349.1Q585 348.1 586 348.1H597.9Q598.9 348.1 598.9 349.1V353.7" fill="none" stroke="#000" stroke-width="1.35"/>
<path d="M601.3 353.7V322.5Q601.3 321.5 602.3 321.5H619.6Q620.6 321.5 620.6 322.5V326.4" fill="none" stroke="#000" stroke-width="1.35"/>
<text x="406.5" y="470.1" class="ast">*</text>
<text x="425.6" y="450.7" class="ast">*</text>
<text x="443.3" y="433.5" class="ast">*</text>
<text x="463.1" y="425.8" class="ast">*</text>
<text x="481.9" y="406.5" class="ast">*</text>
<text x="500.9" y="396.9" class="ast">*</text>
<text x="556.8" y="371.7" class="ast">*</text>
<text x="590.9" y="346.8" class="ast">*</text>
<text x="611.3" y="321.6" class="ast">*</text>
<text x="347.6" y="289.2" class="pl">C</text>
</g>
</svg>
</body></html>
